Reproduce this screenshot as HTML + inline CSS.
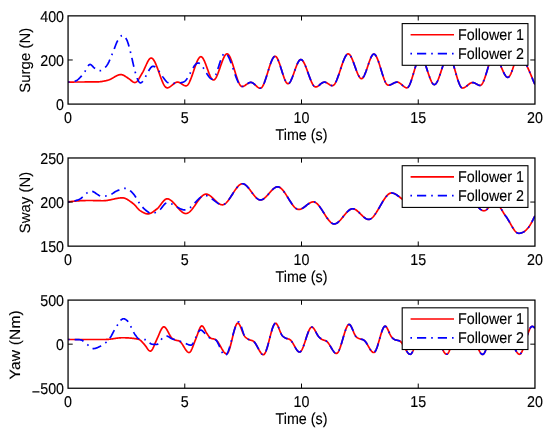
<!DOCTYPE html>
<html><head><meta charset="utf-8"><title>plot</title><style>html,body{margin:0;padding:0;background:#fff;width:550px;height:433px;overflow:hidden}svg{display:block}</style></head><body>
<svg width="550" height="433" viewBox="0 0 550 433" font-family='"Liberation Sans", Arial, Helvetica, sans-serif' font-size="14.3" fill="#000" text-rendering="geometricPrecision">
<style>text{stroke:#000;stroke-width:0.12px}</style>
<rect width="550" height="433" fill="#fff"/>
<defs><clipPath id="c0"><rect x="68.06" y="15.86" width="466.90000000000003" height="88.23"/></clipPath></defs>
<g clip-path="url(#c0)" fill="none" stroke-width="1.7" stroke-linejoin="round">
<path d="M68.06,82.03L68.39,82.03L68.73,82.03L69.06,82.03L69.39,82.03L69.73,82.03L70.06,82.03L70.40,82.03L70.73,82.03L71.06,82.03L71.40,82.03L71.73,82.03L72.06,82.03L72.40,82.03L72.73,82.03L73.07,82.03L73.40,82.03L73.73,82.03L74.07,82.03L74.40,82.02L74.73,82.02L75.07,82.02L75.40,82.02L75.74,82.02L76.07,82.02L76.40,82.02L76.74,82.02L77.07,82.02L77.40,82.02L77.74,82.01L78.07,82.01L78.41,82.01L78.74,82.01L79.07,82.01L79.41,82.01L79.74,82.01L80.07,82.00L80.41,82.00L80.74,82.00L81.08,82.00L81.41,82.00L81.74,81.99L82.08,81.99L82.41,81.99L82.74,81.99L83.08,81.99L83.41,81.98L83.75,81.98L84.08,81.98L84.41,81.98L84.75,81.97L85.08,81.97L85.41,81.97L85.75,81.97L86.08,81.96L86.42,81.96L86.75,81.96L87.08,81.95L87.42,81.95L87.75,81.95L88.08,81.95L88.42,81.94L88.75,81.94L89.09,81.94L89.42,81.93L89.75,81.93L90.09,81.93L90.42,81.92L90.75,81.92L91.09,81.91L91.42,81.91L91.76,81.91L92.09,81.90L92.42,81.90L92.76,81.89L93.09,81.89L93.42,81.89L93.76,81.88L94.09,81.88L94.43,81.87L94.76,81.87L95.09,81.86L95.43,81.86L95.76,81.85L96.09,81.85L96.43,81.84L96.76,81.84L97.10,81.83L97.43,81.83L97.76,81.82L98.10,81.81L98.43,81.80L98.76,81.79L99.10,81.78L99.43,81.76L99.77,81.73L100.10,81.70L100.43,81.67L100.77,81.64L101.10,81.60L101.43,81.55L101.77,81.50L102.10,81.45L102.44,81.40L102.77,81.34L103.10,81.28L103.44,81.22L103.77,81.15L104.10,81.08L104.44,81.02L104.77,80.94L105.10,80.87L105.44,80.80L105.77,80.72L106.11,80.65L106.44,80.57L106.77,80.49L107.11,80.41L107.44,80.33L107.77,80.24L108.11,80.15L108.44,80.05L108.78,79.93L109.11,79.81L109.44,79.68L109.78,79.54L110.11,79.39L110.44,79.23L110.78,79.07L111.11,78.90L111.45,78.72L111.78,78.54L112.11,78.35L112.45,78.16L112.78,77.97L113.11,77.77L113.45,77.58L113.78,77.38L114.12,77.18L114.45,76.99L114.78,76.80L115.12,76.61L115.45,76.42L115.78,76.24L116.12,76.06L116.45,75.89L116.79,75.73L117.12,75.57L117.45,75.43L117.79,75.29L118.12,75.16L118.45,75.04L118.79,74.94L119.12,74.84L119.46,74.76L119.79,74.70L120.12,74.65L120.46,74.61L120.79,74.60L121.12,74.60L121.46,74.63L121.79,74.68L122.13,74.75L122.46,74.84L122.79,74.95L123.13,75.09L123.46,75.24L123.79,75.41L124.13,75.59L124.46,75.78L124.80,75.99L125.13,76.20L125.46,76.42L125.80,76.64L126.13,76.87L126.46,77.09L126.80,77.32L127.13,77.54L127.47,77.76L127.80,77.98L128.13,78.20L128.47,78.42L128.80,78.65L129.13,78.89L129.47,79.14L129.80,79.40L130.14,79.67L130.47,79.95L130.80,80.23L131.14,80.51L131.47,80.78L131.80,81.05L132.14,81.31L132.47,81.55L132.81,81.78L133.14,81.98L133.47,82.16L133.81,82.31L134.14,82.42L134.47,82.50L134.81,82.53L135.14,82.52L135.48,82.45L135.81,82.32L136.14,82.13L136.48,81.88L136.81,81.58L137.14,81.23L137.48,80.84L137.81,80.40L138.15,79.93L138.48,79.42L138.81,78.89L139.15,78.35L139.48,77.78L139.81,77.21L140.15,76.64L140.48,76.06L140.81,75.49L141.15,74.93L141.48,74.37L141.82,73.81L142.15,73.25L142.48,72.68L142.82,72.08L143.15,71.46L143.48,70.81L143.82,70.13L144.15,69.43L144.49,68.71L144.82,67.97L145.15,67.22L145.49,66.47L145.82,65.72L146.15,64.97L146.49,64.24L146.82,63.52L147.16,62.82L147.49,62.15L147.82,61.51L148.16,60.91L148.49,60.35L148.82,59.84L149.16,59.38L149.49,58.98L149.83,58.64L150.16,58.37L150.49,58.18L150.83,58.05L151.16,58.01L151.49,58.04L151.83,58.14L152.16,58.32L152.50,58.57L152.83,58.88L153.16,59.26L153.50,59.70L153.83,60.19L154.16,60.74L154.50,61.34L154.83,61.98L155.17,62.67L155.50,63.40L155.83,64.16L156.17,64.96L156.50,65.79L156.83,66.64L157.17,67.52L157.50,68.41L157.84,69.32L158.17,70.25L158.50,71.18L158.84,72.12L159.17,73.06L159.50,74.00L159.84,74.94L160.17,75.87L160.51,76.79L160.84,77.70L161.17,78.59L161.51,79.45L161.84,80.30L162.17,81.11L162.51,81.90L162.84,82.65L163.18,83.36L163.51,84.03L163.84,84.66L164.18,85.24L164.51,85.76L164.84,86.24L165.18,86.65L165.51,87.01L165.85,87.30L166.18,87.53L166.51,87.69L166.85,87.79L167.18,87.84L167.51,87.83L167.85,87.79L168.18,87.71L168.52,87.59L168.85,87.45L169.18,87.28L169.52,87.10L169.85,86.89L170.18,86.67L170.52,86.43L170.85,86.18L171.19,85.92L171.52,85.65L171.85,85.38L172.19,85.10L172.52,84.82L172.85,84.55L173.19,84.28L173.52,84.01L173.86,83.76L174.19,83.51L174.52,83.28L174.86,83.06L175.19,82.86L175.52,82.68L175.86,82.52L176.19,82.38L176.52,82.28L176.86,82.20L177.19,82.15L177.53,82.13L177.86,82.14L178.19,82.18L178.53,82.26L178.86,82.35L179.19,82.48L179.53,82.62L179.86,82.78L180.20,82.96L180.53,83.16L180.86,83.36L181.20,83.58L181.53,83.79L181.86,84.02L182.20,84.24L182.53,84.46L182.87,84.67L183.20,84.87L183.53,85.07L183.87,85.25L184.20,85.41L184.53,85.56L184.87,85.68L185.20,85.77L185.54,85.83L185.87,85.85L186.20,85.82L186.54,85.74L186.87,85.59L187.20,85.37L187.54,85.08L187.87,84.72L188.21,84.29L188.54,83.79L188.87,83.23L189.21,82.61L189.54,81.94L189.87,81.22L190.21,80.46L190.54,79.65L190.88,78.80L191.21,77.93L191.54,77.02L191.88,76.09L192.21,75.14L192.54,74.17L192.88,73.19L193.21,72.20L193.55,71.21L193.88,70.21L194.21,69.22L194.55,68.24L194.88,67.28L195.21,66.32L195.55,65.39L195.88,64.49L196.22,63.61L196.55,62.77L196.88,61.96L197.22,61.20L197.55,60.48L197.88,59.81L198.22,59.20L198.55,58.64L198.89,58.15L199.22,57.72L199.55,57.36L199.89,57.08L200.22,56.87L200.55,56.75L200.89,56.71L201.22,56.76L201.56,56.90L201.89,57.12L202.22,57.42L202.56,57.80L202.89,58.25L203.22,58.78L203.56,59.36L203.89,60.01L204.23,60.70L204.56,61.44L204.89,62.23L205.23,63.05L205.56,63.90L205.89,64.78L206.23,65.68L206.56,66.59L206.90,67.52L207.23,68.45L207.56,69.38L207.90,70.30L208.23,71.21L208.56,72.11L208.90,72.98L209.23,73.83L209.57,74.64L209.90,75.42L210.23,76.15L210.57,76.84L210.90,77.47L211.23,78.04L211.57,78.55L211.90,78.99L212.23,79.36L212.57,79.64L212.90,79.85L213.24,79.96L213.57,79.99L213.90,79.93L214.24,79.78L214.57,79.55L214.90,79.23L215.24,78.84L215.57,78.38L215.91,77.85L216.24,77.26L216.57,76.61L216.91,75.90L217.24,75.15L217.57,74.35L217.91,73.52L218.24,72.65L218.58,71.75L218.91,70.83L219.24,69.89L219.58,68.93L219.91,67.97L220.24,67.00L220.58,66.02L220.91,65.06L221.25,64.10L221.58,63.15L221.91,62.23L222.25,61.33L222.58,60.45L222.91,59.61L223.25,58.81L223.58,58.05L223.92,57.34L224.25,56.68L224.58,56.08L224.92,55.54L225.25,55.07L225.58,54.66L225.92,54.34L226.25,54.09L226.59,53.93L226.92,53.86L227.25,53.87L227.59,53.98L227.92,54.17L228.25,54.45L228.59,54.81L228.92,55.24L229.26,55.75L229.59,56.34L229.92,56.98L230.26,57.69L230.59,58.45L230.92,59.27L231.26,60.13L231.59,61.04L231.93,61.98L232.26,62.96L232.59,63.97L232.93,65.00L233.26,66.06L233.59,67.13L233.93,68.22L234.26,69.31L234.60,70.40L234.93,71.50L235.26,72.58L235.60,73.66L235.93,74.73L236.26,75.77L236.60,76.79L236.93,77.79L237.27,78.75L237.60,79.68L237.93,80.56L238.27,81.40L238.60,82.19L238.93,82.92L239.27,83.60L239.60,84.21L239.94,84.76L240.27,85.23L240.60,85.63L240.94,85.96L241.27,86.20L241.60,86.37L241.94,86.47L242.27,86.50L242.61,86.49L242.94,86.43L243.27,86.33L243.61,86.20L243.94,86.05L244.27,85.88L244.61,85.69L244.94,85.48L245.28,85.26L245.61,85.03L245.94,84.80L246.28,84.56L246.61,84.32L246.94,84.08L247.28,83.85L247.61,83.62L247.94,83.40L248.28,83.20L248.61,83.01L248.95,82.84L249.28,82.69L249.61,82.57L249.95,82.47L250.28,82.40L250.61,82.37L250.95,82.37L251.28,82.40L251.62,82.47L251.95,82.58L252.28,82.72L252.62,82.89L252.95,83.09L253.28,83.31L253.62,83.56L253.95,83.83L254.29,84.11L254.62,84.40L254.95,84.70L255.29,85.01L255.62,85.33L255.95,85.64L256.29,85.95L256.62,86.25L256.96,86.55L257.29,86.83L257.62,87.10L257.96,87.35L258.29,87.57L258.62,87.77L258.96,87.94L259.29,88.08L259.63,88.18L259.96,88.24L260.29,88.24L260.63,88.18L260.96,88.05L261.29,87.85L261.63,87.57L261.96,87.20L262.30,86.76L262.63,86.25L262.96,85.66L263.30,85.02L263.63,84.31L263.96,83.54L264.30,82.72L264.63,81.85L264.97,80.94L265.30,80.00L265.63,79.02L265.97,78.01L266.30,76.97L266.63,75.92L266.97,74.85L267.30,73.77L267.64,72.68L267.97,71.59L268.30,70.50L268.64,69.42L268.97,68.35L269.30,67.30L269.64,66.27L269.97,65.26L270.31,64.29L270.64,63.34L270.97,62.44L271.31,61.58L271.64,60.77L271.97,60.01L272.31,59.31L272.64,58.67L272.98,58.10L273.31,57.60L273.64,57.17L273.98,56.82L274.31,56.56L274.64,56.39L274.98,56.31L275.31,56.32L275.65,56.44L275.98,56.65L276.31,56.95L276.65,57.34L276.98,57.82L277.31,58.38L277.65,59.02L277.98,59.72L278.32,60.49L278.65,61.32L278.98,62.19L279.32,63.11L279.65,64.08L279.98,65.07L280.32,66.09L280.65,67.14L280.99,68.20L281.32,69.27L281.65,70.34L281.99,71.41L282.32,72.48L282.65,73.53L282.99,74.56L283.32,75.57L283.65,76.54L283.99,77.48L284.32,78.37L284.66,79.22L284.99,80.01L285.32,80.74L285.66,81.40L285.99,81.99L286.32,82.50L286.66,82.93L286.99,83.27L287.33,83.52L287.66,83.67L287.99,83.72L288.33,83.68L288.66,83.54L288.99,83.32L289.33,83.01L289.66,82.62L290.00,82.16L290.33,81.63L290.66,81.04L291.00,80.39L291.33,79.68L291.66,78.93L292.00,78.14L292.33,77.30L292.67,76.44L293.00,75.55L293.33,74.64L293.67,73.71L294.00,72.77L294.33,71.82L294.67,70.87L295.00,69.93L295.34,69.00L295.67,68.08L296.00,67.18L296.34,66.31L296.67,65.47L297.00,64.66L297.34,63.89L297.67,63.17L298.01,62.50L298.34,61.89L298.67,61.34L299.01,60.85L299.34,60.44L299.67,60.10L300.01,59.85L300.34,59.67L300.68,59.59L301.01,59.58L301.34,59.66L301.68,59.82L302.01,60.05L302.34,60.36L302.68,60.74L303.01,61.18L303.35,61.68L303.68,62.23L304.01,62.84L304.35,63.50L304.68,64.20L305.01,64.94L305.35,65.72L305.68,66.53L306.02,67.37L306.35,68.23L306.68,69.12L307.02,70.03L307.35,70.94L307.68,71.87L308.02,72.80L308.35,73.74L308.69,74.67L309.02,75.59L309.35,76.51L309.69,77.41L310.02,78.30L310.35,79.16L310.69,80.00L311.02,80.80L311.36,81.58L311.69,82.31L312.02,83.01L312.36,83.66L312.69,84.26L313.02,84.81L313.36,85.30L313.69,85.73L314.03,86.10L314.36,86.40L314.69,86.64L315.03,86.80L315.36,86.90L315.69,86.94L316.03,86.93L316.36,86.86L316.70,86.76L317.03,86.63L317.36,86.46L317.70,86.27L318.03,86.06L318.36,85.83L318.70,85.58L319.03,85.32L319.37,85.05L319.70,84.78L320.03,84.50L320.37,84.23L320.70,83.96L321.03,83.69L321.37,83.44L321.70,83.20L322.03,82.97L322.37,82.77L322.70,82.59L323.04,82.44L323.37,82.32L323.70,82.22L324.04,82.17L324.37,82.14L324.70,82.15L325.04,82.19L325.37,82.27L325.71,82.37L326.04,82.50L326.37,82.65L326.71,82.82L327.04,83.00L327.37,83.20L327.71,83.41L328.04,83.62L328.38,83.84L328.71,84.06L329.04,84.28L329.38,84.49L329.71,84.70L330.04,84.89L330.38,85.07L330.71,85.23L331.05,85.37L331.38,85.49L331.71,85.57L332.05,85.62L332.38,85.63L332.71,85.58L333.05,85.47L333.38,85.30L333.72,85.06L334.05,84.75L334.38,84.37L334.72,83.92L335.05,83.41L335.38,82.84L335.72,82.21L336.05,81.54L336.39,80.81L336.72,80.04L337.05,79.22L337.39,78.37L337.72,77.49L338.05,76.57L338.39,75.63L338.72,74.67L339.06,73.69L339.39,72.69L339.72,71.68L340.06,70.67L340.39,69.65L340.72,68.63L341.06,67.61L341.39,66.61L341.73,65.61L342.06,64.63L342.39,63.67L342.73,62.73L343.06,61.81L343.39,60.93L343.73,60.08L344.06,59.27L344.40,58.50L344.73,57.78L345.06,57.10L345.40,56.48L345.73,55.91L346.06,55.41L346.40,54.97L346.73,54.59L347.07,54.29L347.40,54.06L347.73,53.91L348.07,53.84L348.40,53.86L348.73,53.95L349.07,54.13L349.40,54.40L349.74,54.73L350.07,55.14L350.40,55.62L350.74,56.17L351.07,56.77L351.40,57.43L351.74,58.14L352.07,58.89L352.41,59.68L352.74,60.51L353.07,61.37L353.41,62.25L353.74,63.16L354.07,64.08L354.41,65.01L354.74,65.95L355.08,66.89L355.41,67.82L355.74,68.75L356.08,69.67L356.41,70.56L356.74,71.44L357.08,72.29L357.41,73.10L357.74,73.88L358.08,74.62L358.41,75.31L358.75,75.95L359.08,76.54L359.41,77.06L359.75,77.52L360.08,77.91L360.41,78.22L360.75,78.45L361.08,78.60L361.42,78.66L361.75,78.62L362.08,78.50L362.42,78.28L362.75,77.97L363.08,77.58L363.42,77.10L363.75,76.55L364.09,75.93L364.42,75.25L364.75,74.50L365.09,73.71L365.42,72.87L365.75,71.98L366.09,71.07L366.42,70.12L366.76,69.16L367.09,68.17L367.42,67.18L367.76,66.18L368.09,65.18L368.42,64.19L368.76,63.21L369.09,62.25L369.43,61.32L369.76,60.42L370.09,59.55L370.43,58.73L370.76,57.95L371.09,57.23L371.43,56.57L371.76,55.97L372.10,55.45L372.43,55.01L372.76,54.64L373.10,54.37L373.43,54.19L373.76,54.10L374.10,54.12L374.43,54.22L374.77,54.42L375.10,54.71L375.43,55.09L375.77,55.54L376.10,56.08L376.43,56.68L376.77,57.35L377.10,58.08L377.44,58.87L377.77,59.71L378.10,60.60L378.44,61.53L378.77,62.50L379.10,63.50L379.44,64.53L379.77,65.58L380.11,66.65L380.44,67.74L380.77,68.83L381.11,69.92L381.44,71.01L381.77,72.10L382.11,73.17L382.44,74.23L382.78,75.27L383.11,76.28L383.44,77.26L383.78,78.21L384.11,79.11L384.44,79.97L384.78,80.78L385.11,81.53L385.45,82.23L385.78,82.86L386.11,83.41L386.45,83.90L386.78,84.31L387.11,84.63L387.45,84.88L387.78,85.05L388.12,85.16L388.45,85.20L388.78,85.20L389.12,85.16L389.45,85.09L389.78,85.00L390.12,84.89L390.45,84.76L390.79,84.62L391.12,84.47L391.45,84.31L391.79,84.15L392.12,83.98L392.45,83.80L392.79,83.63L393.12,83.45L393.45,83.28L393.79,83.11L394.12,82.95L394.46,82.80L394.79,82.65L395.12,82.52L395.46,82.41L395.79,82.31L396.12,82.23L396.46,82.17L396.79,82.13L397.13,82.12L397.46,82.14L397.79,82.19L398.13,82.27L398.46,82.38L398.79,82.53L399.13,82.69L399.46,82.89L399.80,83.11L400.13,83.34L400.46,83.59L400.80,83.86L401.13,84.14L401.46,84.43L401.80,84.72L402.13,85.01L402.47,85.31L402.80,85.60L403.13,85.89L403.47,86.17L403.80,86.43L404.13,86.69L404.47,86.92L404.80,87.14L405.14,87.33L405.47,87.50L405.80,87.63L406.14,87.74L406.47,87.79L406.80,87.80L407.14,87.75L407.47,87.62L407.81,87.41L408.14,87.11L408.47,86.73L408.81,86.26L409.14,85.71L409.47,85.07L409.81,84.37L410.14,83.60L410.48,82.77L410.81,81.88L411.14,80.94L411.48,79.95L411.81,78.93L412.14,77.87L412.48,76.79L412.81,75.68L413.15,74.56L413.48,73.42L413.81,72.28L414.15,71.14L414.48,70.01L414.81,68.88L415.15,67.78L415.48,66.70L415.82,65.64L416.15,64.62L416.48,63.64L416.82,62.70L417.15,61.82L417.48,60.99L417.82,60.22L418.15,59.53L418.49,58.90L418.82,58.35L419.15,57.89L419.49,57.52L419.82,57.24L420.15,57.06L420.49,56.97L420.82,56.98L421.16,57.09L421.49,57.29L421.82,57.57L422.16,57.93L422.49,58.37L422.82,58.89L423.16,59.47L423.49,60.11L423.83,60.81L424.16,61.56L424.49,62.36L424.83,63.20L425.16,64.08L425.49,65.00L425.83,65.94L426.16,66.90L426.50,67.89L426.83,68.89L427.16,69.89L427.50,70.90L427.83,71.91L428.16,72.92L428.50,73.92L428.83,74.90L429.16,75.86L429.50,76.79L429.83,77.70L430.17,78.57L430.50,79.40L430.83,80.19L431.17,80.93L431.50,81.62L431.83,82.24L432.17,82.81L432.50,83.30L432.84,83.73L433.17,84.07L433.50,84.34L433.84,84.52L434.17,84.61L434.50,84.62L434.84,84.53L435.17,84.36L435.51,84.10L435.84,83.77L436.17,83.36L436.51,82.87L436.84,82.32L437.17,81.71L437.51,81.04L437.84,80.31L438.18,79.53L438.51,78.72L438.84,77.86L439.18,76.96L439.51,76.03L439.84,75.08L440.18,74.11L440.51,73.12L440.85,72.11L441.18,71.10L441.51,70.08L441.85,69.06L442.18,68.05L442.51,67.05L442.85,66.06L443.18,65.09L443.52,64.15L443.85,63.23L444.18,62.35L444.52,61.50L444.85,60.69L445.18,59.93L445.52,59.22L445.85,58.57L446.19,57.97L446.52,57.44L446.85,56.98L447.19,56.59L447.52,56.28L447.85,56.05L448.19,55.91L448.52,55.86L448.86,55.91L449.19,56.05L449.52,56.29L449.86,56.63L450.19,57.06L450.52,57.57L450.86,58.17L451.19,58.85L451.53,59.59L451.86,60.40L452.19,61.28L452.53,62.21L452.86,63.18L453.19,64.20L453.53,65.26L453.86,66.35L454.20,67.47L454.53,68.61L454.86,69.76L455.20,70.93L455.53,72.10L455.86,73.26L456.20,74.43L456.53,75.58L456.87,76.71L457.20,77.82L457.53,78.90L457.87,79.94L458.20,80.95L458.53,81.91L458.87,82.81L459.20,83.67L459.54,84.46L459.87,85.18L460.20,85.83L460.54,86.40L460.87,86.88L461.20,87.28L461.54,87.59L461.87,87.82L462.21,87.96L462.54,88.03L462.87,88.03L463.21,87.99L463.54,87.91L463.87,87.79L464.21,87.65L464.54,87.48L464.87,87.29L465.21,87.08L465.54,86.85L465.88,86.62L466.21,86.37L466.54,86.11L466.88,85.84L467.21,85.57L467.54,85.30L467.88,85.03L468.21,84.76L468.55,84.49L468.88,84.24L469.21,83.99L469.55,83.76L469.88,83.54L470.21,83.33L470.55,83.15L470.88,82.99L471.22,82.85L471.55,82.74L471.88,82.65L472.22,82.60L472.55,82.57L472.88,82.58L473.22,82.61L473.55,82.67L473.89,82.76L474.22,82.88L474.55,83.01L474.89,83.16L475.22,83.32L475.55,83.50L475.89,83.68L476.22,83.87L476.56,84.06L476.89,84.25L477.22,84.44L477.56,84.62L477.89,84.79L478.22,84.95L478.56,85.09L478.89,85.21L479.23,85.31L479.56,85.38L479.89,85.40L480.23,85.38L480.56,85.30L480.89,85.15L481.23,84.93L481.56,84.62L481.90,84.23L482.23,83.76L482.56,83.21L482.90,82.59L483.23,81.90L483.56,81.15L483.90,80.34L484.23,79.49L484.57,78.58L484.90,77.63L485.23,76.65L485.57,75.64L485.90,74.60L486.23,73.54L486.57,72.47L486.90,71.38L487.24,70.29L487.57,69.20L487.90,68.12L488.24,67.04L488.57,65.98L488.90,64.95L489.24,63.94L489.57,62.96L489.91,62.02L490.24,61.11L490.57,60.26L490.91,59.46L491.24,58.71L491.57,58.03L491.91,57.42L492.24,56.88L492.58,56.42L492.91,56.03L493.24,55.74L493.58,55.53L493.91,55.41L494.24,55.38L494.58,55.43L494.91,55.56L495.25,55.76L495.58,56.03L495.91,56.36L496.25,56.75L496.58,57.19L496.91,57.69L497.25,58.23L497.58,58.81L497.92,59.44L498.25,60.10L498.58,60.79L498.92,61.51L499.25,62.25L499.58,63.02L499.92,63.79L500.25,64.59L500.58,65.39L500.92,66.19L501.25,67.00L501.59,67.80L501.92,68.60L502.25,69.38L502.59,70.15L502.92,70.91L503.25,71.64L503.59,72.34L503.92,73.02L504.26,73.66L504.59,74.26L504.92,74.82L505.26,75.34L505.59,75.81L505.92,76.22L506.26,76.58L506.59,76.87L506.93,77.10L507.26,77.26L507.59,77.35L507.93,77.35L508.26,77.26L508.59,77.09L508.93,76.83L509.26,76.48L509.60,76.04L509.93,75.52L510.26,74.93L510.60,74.28L510.93,73.56L511.26,72.78L511.60,71.96L511.93,71.09L512.27,70.18L512.60,69.25L512.93,68.29L513.27,67.31L513.60,66.31L513.93,65.31L514.27,64.31L514.60,63.32L514.94,62.34L515.27,61.38L515.60,60.44L515.94,59.53L516.27,58.66L516.60,57.83L516.94,57.05L517.27,56.32L517.61,55.66L517.94,55.06L518.27,54.54L518.61,54.10L518.94,53.74L519.27,53.47L519.61,53.30L519.94,53.23L520.28,53.26L520.61,53.38L520.94,53.60L521.28,53.91L521.61,54.30L521.94,54.77L522.28,55.30L522.61,55.90L522.95,56.56L523.28,57.26L523.61,58.00L523.95,58.77L524.28,59.56L524.61,60.37L524.95,61.19L525.28,62.01L525.62,62.83L525.95,63.63L526.28,64.42L526.62,65.19L526.95,65.95L527.28,66.69L527.62,67.42L527.95,68.16L528.29,68.89L528.62,69.63L528.95,70.38L529.29,71.13L529.62,71.90L529.95,72.67L530.29,73.45L530.62,74.23L530.96,75.03L531.29,75.83L531.62,76.64L531.96,77.46L532.29,78.28L532.62,79.11L532.96,79.95L533.29,80.78L533.63,81.61L533.96,82.40L534.29,83.14L534.63,83.77L534.96,84.28" stroke="#f00"/>
<path d="M68.06,82.03L68.39,82.02L68.73,82.01L69.06,82.00L69.39,81.98L69.73,81.96L70.06,81.93L70.40,81.90L70.73,81.87L71.06,81.83L71.40,81.79L71.73,81.75L72.06,81.70L72.40,81.65L72.73,81.59L73.07,81.54L73.40,81.48L73.73,81.41L74.07,81.35L74.40,81.27L74.73,81.20L75.07,81.11L75.40,81.00L75.74,80.88L76.07,80.74L76.40,80.57L76.74,80.39L77.07,80.18L77.40,79.95L77.74,79.70L78.07,79.44L78.41,79.15L78.74,78.85L79.07,78.54L79.41,78.21L79.74,77.88L80.07,77.53L80.41,77.17L80.74,76.81L81.08,76.43L81.41,76.06L81.74,75.68L82.08,75.29L82.41,74.91L82.74,74.52L83.08,74.12L83.41,73.71L83.75,73.28L84.08,72.83L84.41,72.34L84.75,71.81L85.08,71.25L85.41,70.66L85.75,70.04L86.08,69.41L86.42,68.78L86.75,68.16L87.08,67.55L87.42,66.97L87.75,66.43L88.08,65.93L88.42,65.50L88.75,65.12L89.09,64.83L89.42,64.61L89.75,64.49L90.09,64.45L90.42,64.50L90.75,64.63L91.09,64.83L91.42,65.09L91.76,65.39L92.09,65.73L92.42,66.09L92.76,66.45L93.09,66.80L93.42,67.14L93.76,67.46L94.09,67.75L94.43,68.02L94.76,68.27L95.09,68.51L95.43,68.75L95.76,68.98L96.09,69.20L96.43,69.42L96.76,69.63L97.10,69.82L97.43,70.00L97.76,70.17L98.10,70.32L98.43,70.44L98.76,70.55L99.10,70.62L99.43,70.67L99.77,70.69L100.10,70.67L100.43,70.63L100.77,70.55L101.10,70.44L101.43,70.31L101.77,70.14L102.10,69.96L102.44,69.74L102.77,69.51L103.10,69.26L103.44,68.99L103.77,68.70L104.10,68.40L104.44,68.09L104.77,67.76L105.10,67.43L105.44,67.08L105.77,66.72L106.11,66.35L106.44,65.94L106.77,65.51L107.11,65.04L107.44,64.53L107.77,63.98L108.11,63.38L108.44,62.74L108.78,62.07L109.11,61.36L109.44,60.63L109.78,59.87L110.11,59.10L110.44,58.31L110.78,57.51L111.11,56.71L111.45,55.90L111.78,55.10L112.11,54.29L112.45,53.49L112.78,52.68L113.11,51.85L113.45,51.01L113.78,50.15L114.12,49.27L114.45,48.38L114.78,47.47L115.12,46.57L115.45,45.68L115.78,44.80L116.12,43.96L116.45,43.16L116.79,42.41L117.12,41.71L117.45,41.06L117.79,40.46L118.12,39.90L118.45,39.36L118.79,38.85L119.12,38.36L119.46,37.89L119.79,37.44L120.12,37.01L120.46,36.62L120.79,36.27L121.12,35.96L121.46,35.70L121.79,35.50L122.13,35.36L122.46,35.29L122.79,35.29L123.13,35.36L123.46,35.50L123.79,35.72L124.13,36.00L124.46,36.33L124.80,36.72L125.13,37.16L125.46,37.63L125.80,38.14L126.13,38.70L126.46,39.30L126.80,39.96L127.13,40.70L127.47,41.52L127.80,42.43L128.13,43.43L128.47,44.50L128.80,45.64L129.13,46.84L129.47,48.07L129.80,49.34L130.14,50.64L130.47,51.97L130.80,53.33L131.14,54.74L131.47,56.18L131.80,57.67L132.14,59.18L132.47,60.70L132.81,62.21L133.14,63.69L133.47,65.14L133.81,66.55L134.14,67.92L134.47,69.25L134.81,70.54L135.14,71.79L135.48,73.00L135.81,74.15L136.14,75.24L136.48,76.25L136.81,77.19L137.14,78.06L137.48,78.87L137.81,79.62L138.15,80.31L138.48,80.95L138.81,81.51L139.15,81.99L139.48,82.36L139.81,82.63L140.15,82.79L140.48,82.84L140.81,82.80L141.15,82.68L141.48,82.49L141.82,82.24L142.15,81.93L142.48,81.58L142.82,81.18L143.15,80.74L143.48,80.26L143.82,79.75L144.15,79.21L144.49,78.65L144.82,78.06L145.15,77.45L145.49,76.82L145.82,76.19L146.15,75.54L146.49,74.89L146.82,74.24L147.16,73.59L147.49,72.95L147.82,72.31L148.16,71.69L148.49,71.09L148.82,70.50L149.16,69.94L149.49,69.41L149.83,68.91L150.16,68.44L150.49,68.01L150.83,67.62L151.16,67.28L151.49,66.98L151.83,66.74L152.16,66.55L152.50,66.41L152.83,66.33L153.16,66.30L153.50,66.32L153.83,66.38L154.16,66.48L154.50,66.62L154.83,66.79L155.17,67.00L155.50,67.24L155.83,67.50L156.17,67.80L156.50,68.11L156.83,68.46L157.17,68.82L157.50,69.21L157.84,69.61L158.17,70.03L158.50,70.47L158.84,70.92L159.17,71.39L159.50,71.86L159.84,72.35L160.17,72.84L160.51,73.34L160.84,73.84L161.17,74.35L161.51,74.86L161.84,75.36L162.17,75.87L162.51,76.37L162.84,76.87L163.18,77.36L163.51,77.84L163.84,78.31L164.18,78.77L164.51,79.21L164.84,79.64L165.18,80.06L165.51,80.46L165.85,80.83L166.18,81.19L166.51,81.52L166.85,81.83L167.18,82.11L167.51,82.37L167.85,82.59L168.18,82.79L168.52,82.95L168.85,83.08L169.18,83.18L169.52,83.25L169.85,83.30L170.18,83.32L170.52,83.34L170.85,83.34L171.19,83.34L171.52,83.34L171.85,83.34L172.19,83.33L172.52,83.33L172.85,83.32L173.19,83.31L173.52,83.30L173.86,83.29L174.19,83.28L174.52,83.27L174.86,83.26L175.19,83.25L175.52,83.24L175.86,83.22L176.19,83.21L176.52,83.19L176.86,83.18L177.19,83.16L177.53,83.14L177.86,83.12L178.19,83.10L178.53,83.07L178.86,83.03L179.19,82.99L179.53,82.95L179.86,82.90L180.20,82.84L180.53,82.78L180.86,82.72L181.20,82.65L181.53,82.58L181.86,82.50L182.20,82.41L182.53,82.32L182.87,82.23L183.20,82.12L183.53,81.99L183.87,81.84L184.20,81.66L184.53,81.44L184.87,81.19L185.20,80.90L185.54,80.57L185.87,80.20L186.20,79.79L186.54,79.36L186.87,78.89L187.20,78.40L187.54,77.88L187.87,77.34L188.21,76.78L188.54,76.20L188.87,75.60L189.21,75.00L189.54,74.38L189.87,73.76L190.21,73.13L190.54,72.50L190.88,71.86L191.21,71.23L191.54,70.61L191.88,69.99L192.21,69.39L192.54,68.79L192.88,68.21L193.21,67.65L193.55,67.11L193.88,66.59L194.21,66.09L194.55,65.63L194.88,65.19L195.21,64.78L195.55,64.41L195.88,64.08L196.22,63.79L196.55,63.54L196.88,63.34L197.22,63.18L197.55,63.07L197.88,63.01L198.22,63.00L198.55,63.04L198.89,63.13L199.22,63.26L199.55,63.44L199.89,63.66L200.22,63.92L200.55,64.22L200.89,64.55L201.22,64.92L201.56,65.31L201.89,65.74L202.22,66.18L202.56,66.65L202.89,67.15L203.22,67.65L203.56,68.18L203.89,68.71L204.23,69.26L204.56,69.82L204.89,70.38L205.23,70.94L205.56,71.51L205.89,72.07L206.23,72.63L206.56,73.18L206.90,73.72L207.23,74.26L207.56,74.77L207.90,75.28L208.23,75.76L208.56,76.22L208.90,76.66L209.23,77.07L209.57,77.46L209.90,77.81L210.23,78.13L210.57,78.41L210.90,78.66L211.23,78.86L211.57,79.02L211.90,79.12L212.23,79.17L212.57,79.15L212.90,79.05L213.24,78.88L213.57,78.61L213.90,78.26L214.24,77.82L214.57,77.29L214.90,76.69L215.24,76.02L215.57,75.28L215.91,74.48L216.24,73.63L216.57,72.73L216.91,71.79L217.24,70.82L217.57,69.82L217.91,68.79L218.24,67.75L218.58,66.71L218.91,65.65L219.24,64.60L219.58,63.56L219.91,62.54L220.24,61.54L220.58,60.56L220.91,59.62L221.25,58.72L221.58,57.87L221.91,57.07L222.25,56.32L222.58,55.65L222.91,55.04L223.25,54.51L223.58,54.07L223.92,53.71L224.25,53.45L224.58,53.27L224.92,53.19L225.25,53.20L225.58,53.28L225.92,53.45L226.25,53.69L226.59,53.99L226.92,54.36L227.25,54.78L227.59,55.27L227.92,55.81L228.25,56.39L228.59,57.03L228.92,57.71L229.26,58.43L229.59,59.19L229.92,59.99L230.26,60.81L230.59,61.67L230.92,62.55L231.26,63.46L231.59,64.38L231.93,65.33L232.26,66.28L232.59,67.25L232.93,68.23L233.26,69.21L233.59,70.19L233.93,71.17L234.26,72.15L234.60,73.11L234.93,74.07L235.26,75.02L235.60,75.95L235.93,76.86L236.26,77.74L236.60,78.61L236.93,79.44L237.27,80.24L237.60,81.01L237.93,81.74L238.27,82.42L238.60,83.07L238.93,83.67L239.27,84.21L239.60,84.71L239.94,85.15L240.27,85.53L240.60,85.85L240.94,86.10L241.27,86.29L241.60,86.43L241.94,86.50L242.27,86.52L242.61,86.49L242.94,86.43L243.27,86.33L243.61,86.20L243.94,86.05L244.27,85.88L244.61,85.69L244.94,85.48L245.28,85.26L245.61,85.03L245.94,84.80L246.28,84.56L246.61,84.32L246.94,84.08L247.28,83.85L247.61,83.62L247.94,83.40L248.28,83.20L248.61,83.01L248.95,82.84L249.28,82.69L249.61,82.57L249.95,82.47L250.28,82.40L250.61,82.37L250.95,82.37L251.28,82.40L251.62,82.47L251.95,82.58L252.28,82.72L252.62,82.89L252.95,83.09L253.28,83.31L253.62,83.56L253.95,83.83L254.29,84.11L254.62,84.40L254.95,84.70L255.29,85.01L255.62,85.33L255.95,85.64L256.29,85.95L256.62,86.25L256.96,86.55L257.29,86.83L257.62,87.10L257.96,87.35L258.29,87.57L258.62,87.77L258.96,87.94L259.29,88.08L259.63,88.18L259.96,88.24L260.29,88.24L260.63,88.18L260.96,88.05L261.29,87.85L261.63,87.57L261.96,87.20L262.30,86.76L262.63,86.25L262.96,85.66L263.30,85.02L263.63,84.31L263.96,83.54L264.30,82.72L264.63,81.85L264.97,80.94L265.30,80.00L265.63,79.02L265.97,78.01L266.30,76.97L266.63,75.92L266.97,74.85L267.30,73.77L267.64,72.68L267.97,71.59L268.30,70.50L268.64,69.42L268.97,68.35L269.30,67.30L269.64,66.27L269.97,65.26L270.31,64.29L270.64,63.34L270.97,62.44L271.31,61.58L271.64,60.77L271.97,60.01L272.31,59.31L272.64,58.67L272.98,58.10L273.31,57.60L273.64,57.17L273.98,56.82L274.31,56.56L274.64,56.39L274.98,56.31L275.31,56.32L275.65,56.44L275.98,56.65L276.31,56.95L276.65,57.34L276.98,57.82L277.31,58.38L277.65,59.02L277.98,59.72L278.32,60.49L278.65,61.32L278.98,62.19L279.32,63.11L279.65,64.08L279.98,65.07L280.32,66.09L280.65,67.14L280.99,68.20L281.32,69.27L281.65,70.34L281.99,71.41L282.32,72.48L282.65,73.53L282.99,74.56L283.32,75.57L283.65,76.54L283.99,77.48L284.32,78.37L284.66,79.22L284.99,80.01L285.32,80.74L285.66,81.40L285.99,81.99L286.32,82.50L286.66,82.93L286.99,83.27L287.33,83.52L287.66,83.67L287.99,83.72L288.33,83.68L288.66,83.54L288.99,83.32L289.33,83.01L289.66,82.62L290.00,82.16L290.33,81.63L290.66,81.04L291.00,80.39L291.33,79.68L291.66,78.93L292.00,78.14L292.33,77.30L292.67,76.44L293.00,75.55L293.33,74.64L293.67,73.71L294.00,72.77L294.33,71.82L294.67,70.87L295.00,69.93L295.34,69.00L295.67,68.08L296.00,67.18L296.34,66.31L296.67,65.47L297.00,64.66L297.34,63.89L297.67,63.17L298.01,62.50L298.34,61.89L298.67,61.34L299.01,60.85L299.34,60.44L299.67,60.10L300.01,59.85L300.34,59.67L300.68,59.59L301.01,59.58L301.34,59.66L301.68,59.82L302.01,60.05L302.34,60.36L302.68,60.74L303.01,61.18L303.35,61.68L303.68,62.23L304.01,62.84L304.35,63.50L304.68,64.20L305.01,64.94L305.35,65.72L305.68,66.53L306.02,67.37L306.35,68.23L306.68,69.12L307.02,70.03L307.35,70.94L307.68,71.87L308.02,72.80L308.35,73.74L308.69,74.67L309.02,75.59L309.35,76.51L309.69,77.41L310.02,78.30L310.35,79.16L310.69,80.00L311.02,80.80L311.36,81.58L311.69,82.31L312.02,83.01L312.36,83.66L312.69,84.26L313.02,84.81L313.36,85.30L313.69,85.73L314.03,86.10L314.36,86.40L314.69,86.64L315.03,86.80L315.36,86.90L315.69,86.94L316.03,86.93L316.36,86.86L316.70,86.76L317.03,86.63L317.36,86.46L317.70,86.27L318.03,86.06L318.36,85.83L318.70,85.58L319.03,85.32L319.37,85.05L319.70,84.78L320.03,84.50L320.37,84.23L320.70,83.96L321.03,83.69L321.37,83.44L321.70,83.20L322.03,82.97L322.37,82.77L322.70,82.59L323.04,82.44L323.37,82.32L323.70,82.22L324.04,82.17L324.37,82.14L324.70,82.15L325.04,82.19L325.37,82.27L325.71,82.37L326.04,82.50L326.37,82.65L326.71,82.82L327.04,83.00L327.37,83.20L327.71,83.41L328.04,83.62L328.38,83.84L328.71,84.06L329.04,84.28L329.38,84.49L329.71,84.70L330.04,84.89L330.38,85.07L330.71,85.23L331.05,85.37L331.38,85.49L331.71,85.57L332.05,85.62L332.38,85.63L332.71,85.58L333.05,85.47L333.38,85.30L333.72,85.06L334.05,84.75L334.38,84.37L334.72,83.92L335.05,83.41L335.38,82.84L335.72,82.21L336.05,81.54L336.39,80.81L336.72,80.04L337.05,79.22L337.39,78.37L337.72,77.49L338.05,76.57L338.39,75.63L338.72,74.67L339.06,73.69L339.39,72.69L339.72,71.68L340.06,70.67L340.39,69.65L340.72,68.63L341.06,67.61L341.39,66.61L341.73,65.61L342.06,64.63L342.39,63.67L342.73,62.73L343.06,61.81L343.39,60.93L343.73,60.08L344.06,59.27L344.40,58.50L344.73,57.78L345.06,57.10L345.40,56.48L345.73,55.91L346.06,55.41L346.40,54.97L346.73,54.59L347.07,54.29L347.40,54.06L347.73,53.91L348.07,53.84L348.40,53.86L348.73,53.95L349.07,54.13L349.40,54.40L349.74,54.73L350.07,55.14L350.40,55.62L350.74,56.17L351.07,56.77L351.40,57.43L351.74,58.14L352.07,58.89L352.41,59.68L352.74,60.51L353.07,61.37L353.41,62.25L353.74,63.16L354.07,64.08L354.41,65.01L354.74,65.95L355.08,66.89L355.41,67.82L355.74,68.75L356.08,69.67L356.41,70.56L356.74,71.44L357.08,72.29L357.41,73.10L357.74,73.88L358.08,74.62L358.41,75.31L358.75,75.95L359.08,76.54L359.41,77.06L359.75,77.52L360.08,77.91L360.41,78.22L360.75,78.45L361.08,78.60L361.42,78.66L361.75,78.62L362.08,78.50L362.42,78.28L362.75,77.97L363.08,77.58L363.42,77.10L363.75,76.55L364.09,75.93L364.42,75.25L364.75,74.50L365.09,73.71L365.42,72.87L365.75,71.98L366.09,71.07L366.42,70.12L366.76,69.16L367.09,68.17L367.42,67.18L367.76,66.18L368.09,65.18L368.42,64.19L368.76,63.21L369.09,62.25L369.43,61.32L369.76,60.42L370.09,59.55L370.43,58.73L370.76,57.95L371.09,57.23L371.43,56.57L371.76,55.97L372.10,55.45L372.43,55.01L372.76,54.64L373.10,54.37L373.43,54.19L373.76,54.10L374.10,54.12L374.43,54.22L374.77,54.42L375.10,54.71L375.43,55.09L375.77,55.54L376.10,56.08L376.43,56.68L376.77,57.35L377.10,58.08L377.44,58.87L377.77,59.71L378.10,60.60L378.44,61.53L378.77,62.50L379.10,63.50L379.44,64.53L379.77,65.58L380.11,66.65L380.44,67.74L380.77,68.83L381.11,69.92L381.44,71.01L381.77,72.10L382.11,73.17L382.44,74.23L382.78,75.27L383.11,76.28L383.44,77.26L383.78,78.21L384.11,79.11L384.44,79.97L384.78,80.78L385.11,81.53L385.45,82.23L385.78,82.86L386.11,83.41L386.45,83.90L386.78,84.31L387.11,84.63L387.45,84.88L387.78,85.05L388.12,85.16L388.45,85.20L388.78,85.20L389.12,85.16L389.45,85.09L389.78,85.00L390.12,84.89L390.45,84.76L390.79,84.62L391.12,84.47L391.45,84.31L391.79,84.15L392.12,83.98L392.45,83.80L392.79,83.63L393.12,83.45L393.45,83.28L393.79,83.11L394.12,82.95L394.46,82.80L394.79,82.65L395.12,82.52L395.46,82.41L395.79,82.31L396.12,82.23L396.46,82.17L396.79,82.13L397.13,82.12L397.46,82.14L397.79,82.19L398.13,82.27L398.46,82.38L398.79,82.53L399.13,82.69L399.46,82.89L399.80,83.11L400.13,83.34L400.46,83.59L400.80,83.86L401.13,84.14L401.46,84.43L401.80,84.72L402.13,85.01L402.47,85.31L402.80,85.60L403.13,85.89L403.47,86.17L403.80,86.43L404.13,86.69L404.47,86.92L404.80,87.14L405.14,87.33L405.47,87.50L405.80,87.63L406.14,87.74L406.47,87.79L406.80,87.80L407.14,87.75L407.47,87.62L407.81,87.41L408.14,87.11L408.47,86.73L408.81,86.26L409.14,85.71L409.47,85.07L409.81,84.37L410.14,83.60L410.48,82.77L410.81,81.88L411.14,80.94L411.48,79.95L411.81,78.93L412.14,77.87L412.48,76.79L412.81,75.68L413.15,74.56L413.48,73.42L413.81,72.28L414.15,71.14L414.48,70.01L414.81,68.88L415.15,67.78L415.48,66.70L415.82,65.64L416.15,64.62L416.48,63.64L416.82,62.70L417.15,61.82L417.48,60.99L417.82,60.22L418.15,59.53L418.49,58.90L418.82,58.35L419.15,57.89L419.49,57.52L419.82,57.24L420.15,57.06L420.49,56.97L420.82,56.98L421.16,57.09L421.49,57.29L421.82,57.57L422.16,57.93L422.49,58.37L422.82,58.89L423.16,59.47L423.49,60.11L423.83,60.81L424.16,61.56L424.49,62.36L424.83,63.20L425.16,64.08L425.49,65.00L425.83,65.94L426.16,66.90L426.50,67.89L426.83,68.89L427.16,69.89L427.50,70.90L427.83,71.91L428.16,72.92L428.50,73.92L428.83,74.90L429.16,75.86L429.50,76.79L429.83,77.70L430.17,78.57L430.50,79.40L430.83,80.19L431.17,80.93L431.50,81.62L431.83,82.24L432.17,82.81L432.50,83.30L432.84,83.73L433.17,84.07L433.50,84.34L433.84,84.52L434.17,84.61L434.50,84.62L434.84,84.53L435.17,84.36L435.51,84.10L435.84,83.77L436.17,83.36L436.51,82.87L436.84,82.32L437.17,81.71L437.51,81.04L437.84,80.31L438.18,79.53L438.51,78.72L438.84,77.86L439.18,76.96L439.51,76.03L439.84,75.08L440.18,74.11L440.51,73.12L440.85,72.11L441.18,71.10L441.51,70.08L441.85,69.06L442.18,68.05L442.51,67.05L442.85,66.06L443.18,65.09L443.52,64.15L443.85,63.23L444.18,62.35L444.52,61.50L444.85,60.69L445.18,59.93L445.52,59.22L445.85,58.57L446.19,57.97L446.52,57.44L446.85,56.98L447.19,56.59L447.52,56.28L447.85,56.05L448.19,55.91L448.52,55.86L448.86,55.91L449.19,56.05L449.52,56.29L449.86,56.63L450.19,57.06L450.52,57.57L450.86,58.17L451.19,58.85L451.53,59.59L451.86,60.40L452.19,61.28L452.53,62.21L452.86,63.18L453.19,64.20L453.53,65.26L453.86,66.35L454.20,67.47L454.53,68.61L454.86,69.76L455.20,70.93L455.53,72.10L455.86,73.26L456.20,74.43L456.53,75.58L456.87,76.71L457.20,77.82L457.53,78.90L457.87,79.94L458.20,80.95L458.53,81.91L458.87,82.81L459.20,83.67L459.54,84.46L459.87,85.18L460.20,85.83L460.54,86.40L460.87,86.88L461.20,87.28L461.54,87.59L461.87,87.82L462.21,87.96L462.54,88.03L462.87,88.03L463.21,87.99L463.54,87.91L463.87,87.79L464.21,87.65L464.54,87.48L464.87,87.29L465.21,87.08L465.54,86.85L465.88,86.62L466.21,86.37L466.54,86.11L466.88,85.84L467.21,85.57L467.54,85.30L467.88,85.03L468.21,84.76L468.55,84.49L468.88,84.24L469.21,83.99L469.55,83.76L469.88,83.54L470.21,83.33L470.55,83.15L470.88,82.99L471.22,82.85L471.55,82.74L471.88,82.65L472.22,82.60L472.55,82.57L472.88,82.58L473.22,82.61L473.55,82.67L473.89,82.76L474.22,82.88L474.55,83.01L474.89,83.16L475.22,83.32L475.55,83.50L475.89,83.68L476.22,83.87L476.56,84.06L476.89,84.25L477.22,84.44L477.56,84.62L477.89,84.79L478.22,84.95L478.56,85.09L478.89,85.21L479.23,85.31L479.56,85.38L479.89,85.40L480.23,85.38L480.56,85.30L480.89,85.15L481.23,84.93L481.56,84.62L481.90,84.23L482.23,83.76L482.56,83.21L482.90,82.59L483.23,81.90L483.56,81.15L483.90,80.34L484.23,79.49L484.57,78.58L484.90,77.63L485.23,76.65L485.57,75.64L485.90,74.60L486.23,73.54L486.57,72.47L486.90,71.38L487.24,70.29L487.57,69.20L487.90,68.12L488.24,67.04L488.57,65.98L488.90,64.95L489.24,63.94L489.57,62.96L489.91,62.02L490.24,61.11L490.57,60.26L490.91,59.46L491.24,58.71L491.57,58.03L491.91,57.42L492.24,56.88L492.58,56.42L492.91,56.03L493.24,55.74L493.58,55.53L493.91,55.41L494.24,55.38L494.58,55.43L494.91,55.56L495.25,55.76L495.58,56.03L495.91,56.36L496.25,56.75L496.58,57.19L496.91,57.69L497.25,58.23L497.58,58.81L497.92,59.44L498.25,60.10L498.58,60.79L498.92,61.51L499.25,62.25L499.58,63.02L499.92,63.79L500.25,64.59L500.58,65.39L500.92,66.19L501.25,67.00L501.59,67.80L501.92,68.60L502.25,69.38L502.59,70.15L502.92,70.91L503.25,71.64L503.59,72.34L503.92,73.02L504.26,73.66L504.59,74.26L504.92,74.82L505.26,75.34L505.59,75.81L505.92,76.22L506.26,76.58L506.59,76.87L506.93,77.10L507.26,77.26L507.59,77.35L507.93,77.35L508.26,77.26L508.59,77.09L508.93,76.83L509.26,76.48L509.60,76.04L509.93,75.52L510.26,74.93L510.60,74.28L510.93,73.56L511.26,72.78L511.60,71.96L511.93,71.09L512.27,70.18L512.60,69.25L512.93,68.29L513.27,67.31L513.60,66.31L513.93,65.31L514.27,64.31L514.60,63.32L514.94,62.34L515.27,61.38L515.60,60.44L515.94,59.53L516.27,58.66L516.60,57.83L516.94,57.05L517.27,56.32L517.61,55.66L517.94,55.06L518.27,54.54L518.61,54.10L518.94,53.74L519.27,53.47L519.61,53.30L519.94,53.23L520.28,53.26L520.61,53.38L520.94,53.60L521.28,53.91L521.61,54.30L521.94,54.77L522.28,55.30L522.61,55.90L522.95,56.56L523.28,57.26L523.61,58.00L523.95,58.77L524.28,59.56L524.61,60.37L524.95,61.19L525.28,62.01L525.62,62.83L525.95,63.63L526.28,64.42L526.62,65.19L526.95,65.95L527.28,66.69L527.62,67.42L527.95,68.16L528.29,68.89L528.62,69.63L528.95,70.38L529.29,71.13L529.62,71.90L529.95,72.67L530.29,73.45L530.62,74.23L530.96,75.03L531.29,75.83L531.62,76.64L531.96,77.46L532.29,78.28L532.62,79.11L532.96,79.95L533.29,80.78L533.63,81.61L533.96,82.40L534.29,83.14L534.63,83.77L534.96,84.28" stroke="#00f" stroke-dasharray="1.6 5 9.2 5"/>
</g>
<rect x="68.06" y="15.86" width="466.90" height="88.23" fill="none" stroke="#000" stroke-width="1.25"/>
<path d="M184.78,104.09V99.42M184.78,15.86V20.53M301.51,104.09V99.42M301.51,15.86V20.53M418.24,104.09V99.42M418.24,15.86V20.53M68.06,59.98H72.73M534.96,59.98H530.29" stroke="#000" stroke-width="1" fill="none"/>
<text transform="translate(68.06,122.79) scale(1,1.1)" text-anchor="middle">0</text>
<text transform="translate(184.78,122.79) scale(1,1.1)" text-anchor="middle">5</text>
<text transform="translate(301.51,122.79) scale(1,1.1)" text-anchor="middle">10</text>
<text transform="translate(418.24,122.79) scale(1,1.1)" text-anchor="middle">15</text>
<text transform="translate(534.96,122.79) scale(1,1.1)" text-anchor="middle">20</text>
<text transform="translate(64.06,110.29) scale(1,1.1)" text-anchor="end">0</text>
<text transform="translate(64.06,66.17) scale(1,1.1)" text-anchor="end">200</text>
<text transform="translate(64.06,22.06) scale(1,1.1)" text-anchor="end">400</text>
<text transform="translate(301.51,140.34) scale(1,1.1)" text-anchor="middle">Time (s)</text>
<text transform="translate(30.20,60.27) scale(1,1.0) rotate(-90)" text-anchor="middle" font-size="14.9" letter-spacing="0.05">Surge (N)</text>
<rect x="402.2" y="23.59" width="125.75" height="41.71" fill="#fff" stroke="#000" stroke-width="1.1"/>
<path d="M410.6,34.76H454" stroke="#f00" stroke-width="1.7"/>
<path d="M410.4,53.56H454" stroke="#00f" stroke-width="1.7" stroke-dasharray="1.6 5 9.2 5"/>
<text transform="translate(458.00,39.76) scale(1,1.1)">Follower 1</text>
<text transform="translate(458.00,58.66) scale(1,1.1)">Follower 2</text>
<defs><clipPath id="c1"><rect x="68.06" y="157.98" width="466.90000000000003" height="88.17000000000002"/></clipPath></defs>
<g clip-path="url(#c1)" fill="none" stroke-width="1.7" stroke-linejoin="round">
<path d="M68.06,201.77L68.39,201.74L68.73,201.72L69.06,201.69L69.39,201.65L69.73,201.62L70.06,201.58L70.40,201.55L70.73,201.52L71.06,201.48L71.40,201.45L71.73,201.41L72.06,201.38L72.40,201.35L72.73,201.32L73.07,201.29L73.40,201.26L73.73,201.23L74.07,201.20L74.40,201.17L74.73,201.14L75.07,201.11L75.40,201.08L75.74,201.06L76.07,201.03L76.40,201.00L76.74,200.98L77.07,200.95L77.40,200.93L77.74,200.90L78.07,200.88L78.41,200.86L78.74,200.84L79.07,200.81L79.41,200.79L79.74,200.77L80.07,200.75L80.41,200.73L80.74,200.72L81.08,200.70L81.41,200.68L81.74,200.66L82.08,200.65L82.41,200.63L82.74,200.62L83.08,200.60L83.41,200.59L83.75,200.58L84.08,200.57L84.41,200.56L84.75,200.55L85.08,200.54L85.41,200.53L85.75,200.52L86.08,200.51L86.42,200.51L86.75,200.50L87.08,200.49L87.42,200.49L87.75,200.49L88.08,200.48L88.42,200.48L88.75,200.48L89.09,200.48L89.42,200.48L89.75,200.48L90.09,200.48L90.42,200.49L90.75,200.49L91.09,200.49L91.42,200.50L91.76,200.51L92.09,200.51L92.42,200.52L92.76,200.52L93.09,200.53L93.42,200.54L93.76,200.55L94.09,200.56L94.43,200.56L94.76,200.57L95.09,200.58L95.43,200.59L95.76,200.60L96.09,200.61L96.43,200.62L96.76,200.63L97.10,200.64L97.43,200.65L97.76,200.66L98.10,200.67L98.43,200.67L98.76,200.68L99.10,200.69L99.43,200.70L99.77,200.70L100.10,200.71L100.43,200.72L100.77,200.72L101.10,200.73L101.43,200.73L101.77,200.73L102.10,200.74L102.44,200.74L102.77,200.74L103.10,200.73L103.44,200.73L103.77,200.72L104.10,200.71L104.44,200.69L104.77,200.67L105.10,200.64L105.44,200.61L105.77,200.58L106.11,200.54L106.44,200.50L106.77,200.46L107.11,200.41L107.44,200.36L107.77,200.30L108.11,200.25L108.44,200.19L108.78,200.13L109.11,200.07L109.44,200.00L109.78,199.93L110.11,199.87L110.44,199.80L110.78,199.73L111.11,199.65L111.45,199.58L111.78,199.51L112.11,199.43L112.45,199.36L112.78,199.28L113.11,199.21L113.45,199.14L113.78,199.06L114.12,198.99L114.45,198.91L114.78,198.84L115.12,198.77L115.45,198.70L115.78,198.63L116.12,198.57L116.45,198.50L116.79,198.44L117.12,198.38L117.45,198.32L117.79,198.27L118.12,198.21L118.45,198.16L118.79,198.12L119.12,198.07L119.46,198.03L119.79,197.99L120.12,197.96L120.46,197.93L120.79,197.91L121.12,197.89L121.46,197.87L121.79,197.86L122.13,197.86L122.46,197.87L122.79,197.88L123.13,197.92L123.46,197.96L123.79,198.02L124.13,198.09L124.46,198.18L124.80,198.29L125.13,198.40L125.46,198.53L125.80,198.68L126.13,198.83L126.46,199.00L126.80,199.17L127.13,199.35L127.47,199.55L127.80,199.75L128.13,199.96L128.47,200.17L128.80,200.39L129.13,200.62L129.47,200.85L129.80,201.09L130.14,201.33L130.47,201.57L130.80,201.81L131.14,202.06L131.47,202.30L131.80,202.55L132.14,202.80L132.47,203.05L132.81,203.30L133.14,203.56L133.47,203.83L133.81,204.11L134.14,204.42L134.47,204.74L134.81,205.07L135.14,205.43L135.48,205.79L135.81,206.17L136.14,206.55L136.48,206.94L136.81,207.33L137.14,207.72L137.48,208.10L137.81,208.47L138.15,208.84L138.48,209.18L138.81,209.52L139.15,209.83L139.48,210.12L139.81,210.39L140.15,210.64L140.48,210.87L140.81,211.09L141.15,211.30L141.48,211.50L141.82,211.69L142.15,211.89L142.48,212.08L142.82,212.26L143.15,212.44L143.48,212.62L143.82,212.78L144.15,212.94L144.49,213.09L144.82,213.23L145.15,213.36L145.49,213.48L145.82,213.59L146.15,213.68L146.49,213.76L146.82,213.82L147.16,213.87L147.49,213.90L147.82,213.91L148.16,213.90L148.49,213.87L148.82,213.82L149.16,213.75L149.49,213.67L149.83,213.56L150.16,213.44L150.49,213.30L150.83,213.15L151.16,212.98L151.49,212.80L151.83,212.61L152.16,212.41L152.50,212.20L152.83,211.98L153.16,211.75L153.50,211.52L153.83,211.28L154.16,211.04L154.50,210.79L154.83,210.54L155.17,210.30L155.50,210.05L155.83,209.80L156.17,209.55L156.50,209.29L156.83,209.03L157.17,208.75L157.50,208.45L157.84,208.13L158.17,207.79L158.50,207.43L158.84,207.04L159.17,206.64L159.50,206.23L159.84,205.80L160.17,205.36L160.51,204.91L160.84,204.47L161.17,204.02L161.51,203.57L161.84,203.12L162.17,202.68L162.51,202.26L162.84,201.84L163.18,201.44L163.51,201.06L163.84,200.70L164.18,200.37L164.51,200.06L164.84,199.78L165.18,199.53L165.51,199.31L165.85,199.14L166.18,199.00L166.51,198.90L166.85,198.84L167.18,198.82L167.51,198.83L167.85,198.87L168.18,198.95L168.52,199.04L168.85,199.16L169.18,199.31L169.52,199.47L169.85,199.66L170.18,199.87L170.52,200.09L170.85,200.33L171.19,200.59L171.52,200.87L171.85,201.16L172.19,201.46L172.52,201.78L172.85,202.10L173.19,202.44L173.52,202.79L173.86,203.15L174.19,203.51L174.52,203.88L174.86,204.26L175.19,204.64L175.52,205.03L175.86,205.42L176.19,205.81L176.52,206.20L176.86,206.59L177.19,206.98L177.53,207.37L177.86,207.75L178.19,208.13L178.53,208.51L178.86,208.88L179.19,209.24L179.53,209.60L179.86,209.94L180.20,210.28L180.53,210.61L180.86,210.92L181.20,211.22L181.53,211.51L181.86,211.78L182.20,212.04L182.53,212.28L182.87,212.50L183.20,212.70L183.53,212.88L183.87,213.05L184.20,213.19L184.53,213.31L184.87,213.40L185.20,213.47L185.54,213.51L185.87,213.53L186.20,213.52L186.54,213.48L186.87,213.41L187.20,213.31L187.54,213.19L187.87,213.03L188.21,212.86L188.54,212.65L188.87,212.42L189.21,212.17L189.54,211.90L189.87,211.61L190.21,211.29L190.54,210.96L190.88,210.61L191.21,210.25L191.54,209.86L191.88,209.47L192.21,209.06L192.54,208.64L192.88,208.20L193.21,207.76L193.55,207.31L193.88,206.85L194.21,206.38L194.55,205.91L194.88,205.43L195.21,204.95L195.55,204.47L195.88,203.99L196.22,203.50L196.55,203.02L196.88,202.54L197.22,202.06L197.55,201.58L197.88,201.11L198.22,200.65L198.55,200.19L198.89,199.74L199.22,199.30L199.55,198.87L199.89,198.45L200.22,198.05L200.55,197.66L200.89,197.28L201.22,196.92L201.56,196.58L201.89,196.25L202.22,195.95L202.56,195.66L202.89,195.39L203.22,195.15L203.56,194.93L203.89,194.74L204.23,194.57L204.56,194.42L204.89,194.31L205.23,194.22L205.56,194.16L205.89,194.13L206.23,194.13L206.56,194.15L206.90,194.20L207.23,194.28L207.56,194.38L207.90,194.50L208.23,194.64L208.56,194.80L208.90,194.98L209.23,195.18L209.57,195.39L209.90,195.62L210.23,195.86L210.57,196.12L210.90,196.39L211.23,196.67L211.57,196.96L211.90,197.26L212.23,197.57L212.57,197.88L212.90,198.20L213.24,198.52L213.57,198.84L213.90,199.17L214.24,199.50L214.57,199.83L214.90,200.16L215.24,200.48L215.57,200.80L215.91,201.12L216.24,201.43L216.57,201.74L216.91,202.03L217.24,202.32L217.57,202.60L217.91,202.87L218.24,203.12L218.58,203.36L218.91,203.59L219.24,203.80L219.58,203.99L219.91,204.17L220.24,204.32L220.58,204.46L220.91,204.58L221.25,204.67L221.58,204.74L221.91,204.78L222.25,204.80L222.58,204.79L222.91,204.75L223.25,204.67L223.58,204.57L223.92,204.44L224.25,204.28L224.58,204.09L224.92,203.87L225.25,203.62L225.58,203.36L225.92,203.06L226.25,202.75L226.59,202.41L226.92,202.05L227.25,201.67L227.59,201.28L227.92,200.87L228.25,200.44L228.59,199.99L228.92,199.54L229.26,199.07L229.59,198.59L229.92,198.10L230.26,197.60L230.59,197.10L230.92,196.59L231.26,196.07L231.59,195.55L231.93,195.02L232.26,194.50L232.59,193.97L232.93,193.45L233.26,192.92L233.59,192.40L233.93,191.88L234.26,191.37L234.60,190.87L234.93,190.37L235.26,189.88L235.60,189.40L235.93,188.94L236.26,188.48L236.60,188.04L236.93,187.61L237.27,187.20L237.60,186.81L237.93,186.44L238.27,186.08L238.60,185.74L238.93,185.43L239.27,185.14L239.60,184.87L239.94,184.63L240.27,184.42L240.60,184.23L240.94,184.07L241.27,183.94L241.60,183.84L241.94,183.78L242.27,183.74L242.61,183.74L242.94,183.77L243.27,183.83L243.61,183.92L243.94,184.04L244.27,184.19L244.61,184.37L244.94,184.57L245.28,184.80L245.61,185.05L245.94,185.32L246.28,185.61L246.61,185.92L246.94,186.25L247.28,186.60L247.61,186.96L247.94,187.34L248.28,187.73L248.61,188.13L248.95,188.55L249.28,188.97L249.61,189.40L249.95,189.84L250.28,190.28L250.61,190.73L250.95,191.18L251.28,191.63L251.62,192.08L251.95,192.54L252.28,192.99L252.62,193.43L252.95,193.88L253.28,194.31L253.62,194.74L253.95,195.16L254.29,195.58L254.62,195.98L254.95,196.37L255.29,196.74L255.62,197.10L255.95,197.45L256.29,197.78L256.62,198.09L256.96,198.38L257.29,198.65L257.62,198.90L257.96,199.12L258.29,199.32L258.62,199.50L258.96,199.64L259.29,199.76L259.63,199.85L259.96,199.91L260.29,199.94L260.63,199.94L260.96,199.91L261.29,199.86L261.63,199.77L261.96,199.67L262.30,199.53L262.63,199.37L262.96,199.20L263.30,198.99L263.63,198.77L263.96,198.54L264.30,198.28L264.63,198.01L264.97,197.72L265.30,197.41L265.63,197.10L265.97,196.77L266.30,196.43L266.63,196.09L266.97,195.73L267.30,195.37L267.64,195.00L267.97,194.62L268.30,194.25L268.64,193.87L268.97,193.48L269.30,193.10L269.64,192.72L269.97,192.34L270.31,191.96L270.64,191.59L270.97,191.23L271.31,190.87L271.64,190.51L271.97,190.17L272.31,189.84L272.64,189.51L272.98,189.20L273.31,188.91L273.64,188.63L273.98,188.36L274.31,188.11L274.64,187.88L274.98,187.67L275.31,187.48L275.65,187.31L275.98,187.16L276.31,187.04L276.65,186.94L276.98,186.87L277.31,186.83L277.65,186.82L277.98,186.83L278.32,186.88L278.65,186.95L278.98,187.06L279.32,187.20L279.65,187.36L279.98,187.56L280.32,187.78L280.65,188.02L280.99,188.30L281.32,188.59L281.65,188.91L281.99,189.25L282.32,189.61L282.65,189.99L282.99,190.39L283.32,190.80L283.65,191.23L283.99,191.68L284.32,192.14L284.66,192.61L284.99,193.10L285.32,193.59L285.66,194.10L285.99,194.61L286.32,195.13L286.66,195.66L286.99,196.19L287.33,196.72L287.66,197.26L287.99,197.80L288.33,198.34L288.66,198.88L288.99,199.42L289.33,199.96L289.66,200.49L290.00,201.02L290.33,201.54L290.66,202.05L291.00,202.56L291.33,203.06L291.66,203.55L292.00,204.02L292.33,204.49L292.67,204.94L293.00,205.37L293.33,205.79L293.67,206.19L294.00,206.58L294.33,206.94L294.67,207.29L295.00,207.61L295.34,207.91L295.67,208.19L296.00,208.44L296.34,208.67L296.67,208.87L297.00,209.05L297.34,209.19L297.67,209.31L298.01,209.39L298.34,209.45L298.67,209.47L299.01,209.47L299.34,209.45L299.67,209.40L300.01,209.33L300.34,209.24L300.68,209.13L301.01,209.00L301.34,208.86L301.68,208.70L302.01,208.52L302.34,208.34L302.68,208.14L303.01,207.93L303.35,207.71L303.68,207.48L304.01,207.24L304.35,207.00L304.68,206.75L305.01,206.49L305.35,206.24L305.68,205.98L306.02,205.72L306.35,205.46L306.68,205.20L307.02,204.94L307.35,204.68L307.68,204.43L308.02,204.19L308.35,203.95L308.69,203.72L309.02,203.50L309.35,203.28L309.69,203.08L310.02,202.89L310.35,202.71L310.69,202.55L311.02,202.40L311.36,202.27L311.69,202.15L312.02,202.05L312.36,201.98L312.69,201.92L313.02,201.89L313.36,201.88L313.69,201.90L314.03,201.95L314.36,202.03L314.69,202.13L315.03,202.27L315.36,202.43L315.69,202.62L316.03,202.84L316.36,203.09L316.70,203.36L317.03,203.65L317.36,203.96L317.70,204.30L318.03,204.66L318.36,205.03L318.70,205.43L319.03,205.84L319.37,206.27L319.70,206.71L320.03,207.16L320.37,207.63L320.70,208.11L321.03,208.60L321.37,209.10L321.70,209.60L322.03,210.12L322.37,210.64L322.70,211.16L323.04,211.69L323.37,212.22L323.70,212.75L324.04,213.28L324.37,213.81L324.70,214.34L325.04,214.87L325.37,215.39L325.71,215.91L326.04,216.42L326.37,216.92L326.71,217.42L327.04,217.90L327.37,218.38L327.71,218.84L328.04,219.29L328.38,219.72L328.71,220.14L329.04,220.55L329.38,220.94L329.71,221.30L330.04,221.65L330.38,221.98L330.71,222.29L331.05,222.57L331.38,222.83L331.71,223.07L332.05,223.28L332.38,223.46L332.71,223.61L333.05,223.73L333.38,223.83L333.72,223.89L334.05,223.92L334.38,223.92L334.72,223.90L335.05,223.84L335.38,223.76L335.72,223.65L336.05,223.51L336.39,223.35L336.72,223.17L337.05,222.96L337.39,222.74L337.72,222.49L338.05,222.23L338.39,221.95L338.72,221.65L339.06,221.34L339.39,221.01L339.72,220.67L340.06,220.32L340.39,219.96L340.72,219.58L341.06,219.20L341.39,218.81L341.73,218.42L342.06,218.01L342.39,217.61L342.73,217.20L343.06,216.79L343.39,216.37L343.73,215.96L344.06,215.55L344.40,215.14L344.73,214.73L345.06,214.33L345.40,213.93L345.73,213.54L346.06,213.16L346.40,212.78L346.73,212.42L347.07,212.07L347.40,211.72L347.73,211.40L348.07,211.08L348.40,210.78L348.73,210.50L349.07,210.23L349.40,209.99L349.74,209.76L350.07,209.55L350.40,209.37L350.74,209.20L351.07,209.07L351.40,208.95L351.74,208.86L352.07,208.80L352.41,208.77L352.74,208.76L353.07,208.78L353.41,208.83L353.74,208.90L354.07,208.99L354.41,209.11L354.74,209.25L355.08,209.41L355.41,209.59L355.74,209.78L356.08,210.00L356.41,210.23L356.74,210.48L357.08,210.73L357.41,211.01L357.74,211.29L358.08,211.58L358.41,211.89L358.75,212.20L359.08,212.51L359.41,212.84L359.75,213.16L360.08,213.49L360.41,213.83L360.75,214.16L361.08,214.49L361.42,214.82L361.75,215.15L362.08,215.48L362.42,215.80L362.75,216.12L363.08,216.42L363.42,216.72L363.75,217.01L364.09,217.29L364.42,217.56L364.75,217.81L365.09,218.05L365.42,218.28L365.75,218.49L366.09,218.68L366.42,218.85L366.76,219.01L367.09,219.14L367.42,219.25L367.76,219.33L368.09,219.39L368.42,219.43L368.76,219.43L369.09,219.41L369.43,219.36L369.76,219.27L370.09,219.16L370.43,219.01L370.76,218.84L371.09,218.64L371.43,218.41L371.76,218.15L372.10,217.87L372.43,217.57L372.76,217.24L373.10,216.88L373.43,216.51L373.76,216.12L374.10,215.71L374.43,215.27L374.77,214.83L375.10,214.36L375.43,213.88L375.77,213.39L376.10,212.88L376.43,212.36L376.77,211.83L377.10,211.29L377.44,210.74L377.77,210.18L378.10,209.62L378.44,209.05L378.77,208.47L379.10,207.89L379.44,207.31L379.77,206.73L380.11,206.14L380.44,205.55L380.77,204.97L381.11,204.39L381.44,203.81L381.77,203.23L382.11,202.67L382.44,202.10L382.78,201.55L383.11,201.00L383.44,200.46L383.78,199.93L384.11,199.42L384.44,198.91L384.78,198.42L385.11,197.94L385.45,197.48L385.78,197.04L386.11,196.61L386.45,196.20L386.78,195.82L387.11,195.45L387.45,195.10L387.78,194.78L388.12,194.48L388.45,194.20L388.78,193.95L389.12,193.73L389.45,193.53L389.78,193.37L390.12,193.23L390.45,193.12L390.79,193.04L391.12,192.99L391.45,192.97L391.79,192.97L392.12,193.00L392.45,193.05L392.79,193.11L393.12,193.20L393.45,193.29L393.79,193.41L394.12,193.54L394.46,193.68L394.79,193.84L395.12,194.00L395.46,194.18L395.79,194.37L396.12,194.57L396.46,194.78L396.79,195.00L397.13,195.22L397.46,195.46L397.79,195.70L398.13,195.94L398.46,196.19L398.79,196.44L399.13,196.69L399.46,196.95L399.80,197.21L400.13,197.47L400.46,197.73L400.80,197.99L401.13,198.25L401.46,198.50L401.80,198.75L402.13,199.00L402.47,199.25L402.80,199.49L403.13,199.72L403.47,199.94L403.80,200.16L404.13,200.37L404.47,200.57L404.80,200.76L405.14,200.94L405.47,201.11L405.80,201.27L406.14,201.41L406.47,201.54L406.80,201.66L407.14,201.76L407.47,201.84L407.81,201.91L408.14,201.96L408.47,201.99L408.81,202.00L409.14,201.99L409.47,201.97L409.81,201.92L410.14,201.85L410.48,201.76L410.81,201.65L411.14,201.52L411.48,201.37L411.81,201.21L412.14,201.03L412.48,200.83L412.81,200.62L413.15,200.40L413.48,200.16L413.81,199.92L414.15,199.66L414.48,199.39L414.81,199.11L415.15,198.82L415.48,198.52L415.82,198.22L416.15,197.91L416.48,197.60L416.82,197.28L417.15,196.96L417.48,196.63L417.82,196.30L418.15,195.98L418.49,195.65L418.82,195.32L419.15,194.99L419.49,194.67L419.82,194.35L420.15,194.03L420.49,193.72L420.82,193.41L421.16,193.11L421.49,192.82L421.82,192.54L422.16,192.26L422.49,192.00L422.82,191.74L423.16,191.50L423.49,191.27L423.83,191.06L424.16,190.85L424.49,190.67L424.83,190.49L425.16,190.34L425.49,190.20L425.83,190.08L426.16,189.98L426.50,189.90L426.83,189.84L427.16,189.81L427.50,189.80L427.83,189.81L428.16,189.84L428.50,189.90L428.83,189.99L429.16,190.10L429.50,190.23L429.83,190.39L430.17,190.57L430.50,190.76L430.83,190.98L431.17,191.22L431.50,191.47L431.83,191.73L432.17,192.02L432.50,192.31L432.84,192.62L433.17,192.94L433.50,193.27L433.84,193.61L434.17,193.96L434.50,194.32L434.84,194.68L435.17,195.04L435.51,195.41L435.84,195.79L436.17,196.16L436.51,196.54L436.84,196.91L437.17,197.28L437.51,197.65L437.84,198.02L438.18,198.38L438.51,198.73L438.84,199.08L439.18,199.42L439.51,199.75L439.84,200.07L440.18,200.38L440.51,200.67L440.85,200.95L441.18,201.22L441.51,201.47L441.85,201.70L442.18,201.92L442.51,202.12L442.85,202.29L443.18,202.45L443.52,202.58L443.85,202.69L444.18,202.77L444.52,202.83L444.85,202.87L445.18,202.88L445.52,202.87L445.85,202.84L446.19,202.79L446.52,202.72L446.85,202.63L447.19,202.53L447.52,202.41L447.85,202.27L448.19,202.13L448.52,201.96L448.86,201.79L449.19,201.60L449.52,201.40L449.86,201.20L450.19,200.98L450.52,200.75L450.86,200.51L451.19,200.27L451.53,200.02L451.86,199.76L452.19,199.50L452.53,199.23L452.86,198.96L453.19,198.68L453.53,198.41L453.86,198.13L454.20,197.85L454.53,197.56L454.86,197.28L455.20,197.00L455.53,196.72L455.86,196.45L456.20,196.18L456.53,195.91L456.87,195.64L457.20,195.38L457.53,195.13L457.87,194.88L458.20,194.64L458.53,194.41L458.87,194.19L459.20,193.98L459.54,193.78L459.87,193.59L460.20,193.41L460.54,193.24L460.87,193.09L461.20,192.95L461.54,192.83L461.87,192.72L462.21,192.62L462.54,192.55L462.87,192.49L463.21,192.45L463.54,192.44L463.87,192.44L464.21,192.47L464.54,192.53L464.87,192.61L465.21,192.71L465.54,192.84L465.88,193.00L466.21,193.18L466.54,193.38L466.88,193.60L467.21,193.85L467.54,194.11L467.88,194.40L468.21,194.70L468.55,195.02L468.88,195.35L469.21,195.70L469.55,196.06L469.88,196.44L470.21,196.82L470.55,197.22L470.88,197.63L471.22,198.05L471.55,198.47L471.88,198.90L472.22,199.34L472.55,199.78L472.88,200.23L473.22,200.68L473.55,201.13L473.89,201.59L474.22,202.04L474.55,202.49L474.89,202.94L475.22,203.39L475.55,203.84L475.89,204.27L476.22,204.71L476.56,205.13L476.89,205.55L477.22,205.96L477.56,206.36L477.89,206.75L478.22,207.13L478.56,207.49L478.89,207.84L479.23,208.18L479.56,208.50L479.89,208.80L480.23,209.09L480.56,209.36L480.89,209.61L481.23,209.83L481.56,210.04L481.90,210.22L482.23,210.38L482.56,210.52L482.90,210.62L483.23,210.70L483.56,210.76L483.90,210.78L484.23,210.76L484.57,210.71L484.90,210.62L485.23,210.50L485.57,210.33L485.90,210.14L486.23,209.91L486.57,209.65L486.90,209.37L487.24,209.07L487.57,208.74L487.90,208.40L488.24,208.04L488.57,207.68L488.90,207.30L489.24,206.92L489.57,206.54L489.91,206.16L490.24,205.78L490.57,205.42L490.91,205.06L491.24,204.71L491.57,204.38L491.91,204.07L492.24,203.79L492.58,203.53L492.91,203.29L493.24,203.09L493.58,202.92L493.91,202.79L494.24,202.70L494.58,202.65L494.91,202.65L495.25,202.68L495.58,202.77L495.91,202.89L496.25,203.06L496.58,203.26L496.91,203.51L497.25,203.79L497.58,204.10L497.92,204.45L498.25,204.82L498.58,205.22L498.92,205.65L499.25,206.09L499.58,206.56L499.92,207.05L500.25,207.55L500.58,208.06L500.92,208.59L501.25,209.12L501.59,209.66L501.92,210.21L502.25,210.75L502.59,211.30L502.92,211.85L503.25,212.39L503.59,212.92L503.92,213.45L504.26,213.96L504.59,214.46L504.92,214.96L505.26,215.44L505.59,215.91L505.92,216.38L506.26,216.86L506.59,217.34L506.93,217.84L507.26,218.35L507.59,218.87L507.93,219.41L508.26,219.97L508.59,220.53L508.93,221.10L509.26,221.68L509.60,222.27L509.93,222.86L510.26,223.45L510.60,224.04L510.93,224.62L511.26,225.21L511.60,225.79L511.93,226.36L512.27,226.92L512.60,227.47L512.93,228.00L513.27,228.52L513.60,229.02L513.93,229.51L514.27,229.97L514.60,230.41L514.94,230.83L515.27,231.21L515.60,231.57L515.94,231.90L516.27,232.20L516.60,232.46L516.94,232.69L517.27,232.88L517.61,233.04L517.94,233.15L518.27,233.23L518.61,233.28L518.94,233.30L519.27,233.30L519.61,233.27L519.94,233.23L520.28,233.18L520.61,233.11L520.94,233.04L521.28,232.94L521.61,232.84L521.94,232.72L522.28,232.58L522.61,232.44L522.95,232.28L523.28,232.10L523.61,231.91L523.95,231.71L524.28,231.49L524.61,231.25L524.95,231.00L525.28,230.74L525.62,230.45L525.95,230.16L526.28,229.84L526.62,229.51L526.95,229.16L527.28,228.80L527.62,228.42L527.95,228.02L528.29,227.60L528.62,227.17L528.95,226.71L529.29,226.24L529.62,225.75L529.95,225.25L530.29,224.72L530.62,224.17L530.96,223.61L531.29,223.02L531.62,222.42L531.96,221.79L532.29,221.14L532.62,220.48L532.96,219.80L533.29,219.10L533.63,218.40L533.96,217.71L534.29,217.07L534.63,216.51L534.96,216.05" stroke="#f00"/>
<path d="M68.06,202.05L68.39,202.04L68.73,202.03L69.06,202.01L69.39,201.98L69.73,201.95L70.06,201.92L70.40,201.88L70.73,201.83L71.06,201.78L71.40,201.72L71.73,201.66L72.06,201.59L72.40,201.52L72.73,201.44L73.07,201.36L73.40,201.28L73.73,201.19L74.07,201.10L74.40,201.01L74.73,200.91L75.07,200.81L75.40,200.71L75.74,200.61L76.07,200.51L76.40,200.40L76.74,200.29L77.07,200.18L77.40,200.07L77.74,199.95L78.07,199.84L78.41,199.71L78.74,199.58L79.07,199.44L79.41,199.29L79.74,199.11L80.07,198.92L80.41,198.71L80.74,198.49L81.08,198.25L81.41,197.99L81.74,197.72L82.08,197.43L82.41,197.14L82.74,196.83L83.08,196.52L83.41,196.21L83.75,195.89L84.08,195.57L84.41,195.25L84.75,194.93L85.08,194.61L85.41,194.29L85.75,193.98L86.08,193.68L86.42,193.39L86.75,193.11L87.08,192.84L87.42,192.58L87.75,192.34L88.08,192.12L88.42,191.91L88.75,191.73L89.09,191.57L89.42,191.43L89.75,191.32L90.09,191.23L90.42,191.17L90.75,191.14L91.09,191.13L91.42,191.15L91.76,191.20L92.09,191.28L92.42,191.37L92.76,191.49L93.09,191.63L93.42,191.78L93.76,191.96L94.09,192.14L94.43,192.34L94.76,192.55L95.09,192.77L95.43,192.99L95.76,193.22L96.09,193.46L96.43,193.69L96.76,193.93L97.10,194.16L97.43,194.39L97.76,194.62L98.10,194.83L98.43,195.04L98.76,195.24L99.10,195.43L99.43,195.60L99.77,195.75L100.10,195.89L100.43,196.01L100.77,196.11L101.10,196.18L101.43,196.24L101.77,196.28L102.10,196.30L102.44,196.30L102.77,196.30L103.10,196.28L103.44,196.27L103.77,196.24L104.10,196.21L104.44,196.18L104.77,196.14L105.10,196.10L105.44,196.06L105.77,196.01L106.11,195.96L106.44,195.91L106.77,195.85L107.11,195.79L107.44,195.73L107.77,195.67L108.11,195.60L108.44,195.53L108.78,195.45L109.11,195.36L109.44,195.26L109.78,195.14L110.11,195.00L110.44,194.85L110.78,194.67L111.11,194.49L111.45,194.29L111.78,194.08L112.11,193.86L112.45,193.64L112.78,193.41L113.11,193.17L113.45,192.94L113.78,192.70L114.12,192.47L114.45,192.24L114.78,192.02L115.12,191.81L115.45,191.61L115.78,191.42L116.12,191.24L116.45,191.08L116.79,190.92L117.12,190.78L117.45,190.63L117.79,190.50L118.12,190.36L118.45,190.23L118.79,190.09L119.12,189.96L119.46,189.83L119.79,189.70L120.12,189.57L120.46,189.45L120.79,189.33L121.12,189.21L121.46,189.10L121.79,188.99L122.13,188.89L122.46,188.79L122.79,188.70L123.13,188.62L123.46,188.54L123.79,188.47L124.13,188.41L124.46,188.36L124.80,188.32L125.13,188.29L125.46,188.28L125.80,188.28L126.13,188.31L126.46,188.35L126.80,188.43L127.13,188.53L127.47,188.66L127.80,188.82L128.13,189.00L128.47,189.21L128.80,189.44L129.13,189.69L129.47,189.96L129.80,190.25L130.14,190.55L130.47,190.86L130.80,191.18L131.14,191.51L131.47,191.84L131.80,192.18L132.14,192.52L132.47,192.87L132.81,193.23L133.14,193.59L133.47,193.97L133.81,194.37L134.14,194.80L134.47,195.25L134.81,195.72L135.14,196.22L135.48,196.74L135.81,197.28L136.14,197.83L136.48,198.40L136.81,198.97L137.14,199.54L137.48,200.12L137.81,200.68L138.15,201.25L138.48,201.80L138.81,202.33L139.15,202.85L139.48,203.35L139.81,203.83L140.15,204.29L140.48,204.72L140.81,205.14L141.15,205.55L141.48,205.95L141.82,206.33L142.15,206.71L142.48,207.08L142.82,207.45L143.15,207.80L143.48,208.15L143.82,208.48L144.15,208.80L144.49,209.12L144.82,209.42L145.15,209.71L145.49,209.99L145.82,210.26L146.15,210.53L146.49,210.79L146.82,211.05L147.16,211.30L147.49,211.56L147.82,211.81L148.16,212.05L148.49,212.28L148.82,212.50L149.16,212.70L149.49,212.89L149.83,213.05L150.16,213.18L150.49,213.29L150.83,213.37L151.16,213.43L151.49,213.45L151.83,213.45L152.16,213.43L152.50,213.39L152.83,213.34L153.16,213.26L153.50,213.18L153.83,213.08L154.16,212.98L154.50,212.86L154.83,212.73L155.17,212.60L155.50,212.45L155.83,212.30L156.17,212.15L156.50,211.98L156.83,211.82L157.17,211.65L157.50,211.47L157.84,211.29L158.17,211.10L158.50,210.90L158.84,210.68L159.17,210.44L159.50,210.17L159.84,209.87L160.17,209.54L160.51,209.18L160.84,208.80L161.17,208.40L161.51,207.98L161.84,207.55L162.17,207.12L162.51,206.68L162.84,206.25L163.18,205.82L163.51,205.41L163.84,205.01L164.18,204.63L164.51,204.27L164.84,203.95L165.18,203.66L165.51,203.41L165.85,203.20L166.18,203.03L166.51,202.90L166.85,202.82L167.18,202.78L167.51,202.76L167.85,202.78L168.18,202.81L168.52,202.86L168.85,202.93L169.18,203.00L169.52,203.09L169.85,203.19L170.18,203.30L170.52,203.42L170.85,203.55L171.19,203.69L171.52,203.84L171.85,203.99L172.19,204.16L172.52,204.32L172.85,204.50L173.19,204.68L173.52,204.86L173.86,205.05L174.19,205.24L174.52,205.44L174.86,205.63L175.19,205.83L175.52,206.03L175.86,206.24L176.19,206.44L176.52,206.64L176.86,206.84L177.19,207.04L177.53,207.24L177.86,207.43L178.19,207.63L178.53,207.81L178.86,208.00L179.19,208.18L179.53,208.35L179.86,208.52L180.20,208.68L180.53,208.84L180.86,208.98L181.20,209.12L181.53,209.25L181.86,209.37L182.20,209.49L182.53,209.59L182.87,209.68L183.20,209.75L183.53,209.82L183.87,209.87L184.20,209.91L184.53,209.94L184.87,209.95L185.20,209.94L185.54,209.91L185.87,209.86L186.20,209.79L186.54,209.70L186.87,209.59L187.20,209.46L187.54,209.32L187.87,209.15L188.21,208.97L188.54,208.77L188.87,208.55L189.21,208.32L189.54,208.08L189.87,207.82L190.21,207.55L190.54,207.27L190.88,206.98L191.21,206.68L191.54,206.36L191.88,206.04L192.21,205.72L192.54,205.38L192.88,205.04L193.21,204.70L193.55,204.35L193.88,203.99L194.21,203.64L194.55,203.28L194.88,202.92L195.21,202.56L195.55,202.20L195.88,201.84L196.22,201.48L196.55,201.13L196.88,200.78L197.22,200.43L197.55,200.09L197.88,199.75L198.22,199.43L198.55,199.11L198.89,198.79L199.22,198.49L199.55,198.20L199.89,197.92L200.22,197.65L200.55,197.39L200.89,197.14L201.22,196.91L201.56,196.70L201.89,196.50L202.22,196.31L202.56,196.15L202.89,196.00L203.22,195.87L203.56,195.76L203.89,195.67L204.23,195.60L204.56,195.55L204.89,195.52L205.23,195.52L205.56,195.53L205.89,195.57L206.23,195.62L206.56,195.70L206.90,195.79L207.23,195.90L207.56,196.02L207.90,196.16L208.23,196.31L208.56,196.48L208.90,196.66L209.23,196.85L209.57,197.05L209.90,197.26L210.23,197.48L210.57,197.71L210.90,197.95L211.23,198.20L211.57,198.45L211.90,198.70L212.23,198.97L212.57,199.23L212.90,199.50L213.24,199.77L213.57,200.04L213.90,200.31L214.24,200.58L214.57,200.85L214.90,201.12L215.24,201.38L215.57,201.64L215.91,201.90L216.24,202.15L216.57,202.39L216.91,202.63L217.24,202.86L217.57,203.08L217.91,203.29L218.24,203.49L218.58,203.69L218.91,203.86L219.24,204.03L219.58,204.18L219.91,204.32L220.24,204.45L220.58,204.55L220.91,204.64L221.25,204.72L221.58,204.77L221.91,204.80L222.25,204.81L222.58,204.79L222.91,204.75L223.25,204.67L223.58,204.57L223.92,204.44L224.25,204.28L224.58,204.09L224.92,203.87L225.25,203.62L225.58,203.36L225.92,203.06L226.25,202.75L226.59,202.41L226.92,202.05L227.25,201.67L227.59,201.28L227.92,200.87L228.25,200.44L228.59,199.99L228.92,199.54L229.26,199.07L229.59,198.59L229.92,198.10L230.26,197.60L230.59,197.10L230.92,196.59L231.26,196.07L231.59,195.55L231.93,195.02L232.26,194.50L232.59,193.97L232.93,193.45L233.26,192.92L233.59,192.40L233.93,191.88L234.26,191.37L234.60,190.87L234.93,190.37L235.26,189.88L235.60,189.40L235.93,188.94L236.26,188.48L236.60,188.04L236.93,187.61L237.27,187.20L237.60,186.81L237.93,186.44L238.27,186.08L238.60,185.74L238.93,185.43L239.27,185.14L239.60,184.87L239.94,184.63L240.27,184.42L240.60,184.23L240.94,184.07L241.27,183.94L241.60,183.84L241.94,183.78L242.27,183.74L242.61,183.74L242.94,183.77L243.27,183.83L243.61,183.92L243.94,184.04L244.27,184.19L244.61,184.37L244.94,184.57L245.28,184.80L245.61,185.05L245.94,185.32L246.28,185.61L246.61,185.92L246.94,186.25L247.28,186.60L247.61,186.96L247.94,187.34L248.28,187.73L248.61,188.13L248.95,188.55L249.28,188.97L249.61,189.40L249.95,189.84L250.28,190.28L250.61,190.73L250.95,191.18L251.28,191.63L251.62,192.08L251.95,192.54L252.28,192.99L252.62,193.43L252.95,193.88L253.28,194.31L253.62,194.74L253.95,195.16L254.29,195.58L254.62,195.98L254.95,196.37L255.29,196.74L255.62,197.10L255.95,197.45L256.29,197.78L256.62,198.09L256.96,198.38L257.29,198.65L257.62,198.90L257.96,199.12L258.29,199.32L258.62,199.50L258.96,199.64L259.29,199.76L259.63,199.85L259.96,199.91L260.29,199.94L260.63,199.94L260.96,199.91L261.29,199.86L261.63,199.77L261.96,199.67L262.30,199.53L262.63,199.37L262.96,199.20L263.30,198.99L263.63,198.77L263.96,198.54L264.30,198.28L264.63,198.01L264.97,197.72L265.30,197.41L265.63,197.10L265.97,196.77L266.30,196.43L266.63,196.09L266.97,195.73L267.30,195.37L267.64,195.00L267.97,194.62L268.30,194.25L268.64,193.87L268.97,193.48L269.30,193.10L269.64,192.72L269.97,192.34L270.31,191.96L270.64,191.59L270.97,191.23L271.31,190.87L271.64,190.51L271.97,190.17L272.31,189.84L272.64,189.51L272.98,189.20L273.31,188.91L273.64,188.63L273.98,188.36L274.31,188.11L274.64,187.88L274.98,187.67L275.31,187.48L275.65,187.31L275.98,187.16L276.31,187.04L276.65,186.94L276.98,186.87L277.31,186.83L277.65,186.82L277.98,186.83L278.32,186.88L278.65,186.95L278.98,187.06L279.32,187.20L279.65,187.36L279.98,187.56L280.32,187.78L280.65,188.02L280.99,188.30L281.32,188.59L281.65,188.91L281.99,189.25L282.32,189.61L282.65,189.99L282.99,190.39L283.32,190.80L283.65,191.23L283.99,191.68L284.32,192.14L284.66,192.61L284.99,193.10L285.32,193.59L285.66,194.10L285.99,194.61L286.32,195.13L286.66,195.66L286.99,196.19L287.33,196.72L287.66,197.26L287.99,197.80L288.33,198.34L288.66,198.88L288.99,199.42L289.33,199.96L289.66,200.49L290.00,201.02L290.33,201.54L290.66,202.05L291.00,202.56L291.33,203.06L291.66,203.55L292.00,204.02L292.33,204.49L292.67,204.94L293.00,205.37L293.33,205.79L293.67,206.19L294.00,206.58L294.33,206.94L294.67,207.29L295.00,207.61L295.34,207.91L295.67,208.19L296.00,208.44L296.34,208.67L296.67,208.87L297.00,209.05L297.34,209.19L297.67,209.31L298.01,209.39L298.34,209.45L298.67,209.47L299.01,209.47L299.34,209.45L299.67,209.40L300.01,209.33L300.34,209.24L300.68,209.13L301.01,209.00L301.34,208.86L301.68,208.70L302.01,208.52L302.34,208.34L302.68,208.14L303.01,207.93L303.35,207.71L303.68,207.48L304.01,207.24L304.35,207.00L304.68,206.75L305.01,206.49L305.35,206.24L305.68,205.98L306.02,205.72L306.35,205.46L306.68,205.20L307.02,204.94L307.35,204.68L307.68,204.43L308.02,204.19L308.35,203.95L308.69,203.72L309.02,203.50L309.35,203.28L309.69,203.08L310.02,202.89L310.35,202.71L310.69,202.55L311.02,202.40L311.36,202.27L311.69,202.15L312.02,202.05L312.36,201.98L312.69,201.92L313.02,201.89L313.36,201.88L313.69,201.90L314.03,201.95L314.36,202.03L314.69,202.13L315.03,202.27L315.36,202.43L315.69,202.62L316.03,202.84L316.36,203.09L316.70,203.36L317.03,203.65L317.36,203.96L317.70,204.30L318.03,204.66L318.36,205.03L318.70,205.43L319.03,205.84L319.37,206.27L319.70,206.71L320.03,207.16L320.37,207.63L320.70,208.11L321.03,208.60L321.37,209.10L321.70,209.60L322.03,210.12L322.37,210.64L322.70,211.16L323.04,211.69L323.37,212.22L323.70,212.75L324.04,213.28L324.37,213.81L324.70,214.34L325.04,214.87L325.37,215.39L325.71,215.91L326.04,216.42L326.37,216.92L326.71,217.42L327.04,217.90L327.37,218.38L327.71,218.84L328.04,219.29L328.38,219.72L328.71,220.14L329.04,220.55L329.38,220.94L329.71,221.30L330.04,221.65L330.38,221.98L330.71,222.29L331.05,222.57L331.38,222.83L331.71,223.07L332.05,223.28L332.38,223.46L332.71,223.61L333.05,223.73L333.38,223.83L333.72,223.89L334.05,223.92L334.38,223.92L334.72,223.90L335.05,223.84L335.38,223.76L335.72,223.65L336.05,223.51L336.39,223.35L336.72,223.17L337.05,222.96L337.39,222.74L337.72,222.49L338.05,222.23L338.39,221.95L338.72,221.65L339.06,221.34L339.39,221.01L339.72,220.67L340.06,220.32L340.39,219.96L340.72,219.58L341.06,219.20L341.39,218.81L341.73,218.42L342.06,218.01L342.39,217.61L342.73,217.20L343.06,216.79L343.39,216.37L343.73,215.96L344.06,215.55L344.40,215.14L344.73,214.73L345.06,214.33L345.40,213.93L345.73,213.54L346.06,213.16L346.40,212.78L346.73,212.42L347.07,212.07L347.40,211.72L347.73,211.40L348.07,211.08L348.40,210.78L348.73,210.50L349.07,210.23L349.40,209.99L349.74,209.76L350.07,209.55L350.40,209.37L350.74,209.20L351.07,209.07L351.40,208.95L351.74,208.86L352.07,208.80L352.41,208.77L352.74,208.76L353.07,208.78L353.41,208.83L353.74,208.90L354.07,208.99L354.41,209.11L354.74,209.25L355.08,209.41L355.41,209.59L355.74,209.78L356.08,210.00L356.41,210.23L356.74,210.48L357.08,210.73L357.41,211.01L357.74,211.29L358.08,211.58L358.41,211.89L358.75,212.20L359.08,212.51L359.41,212.84L359.75,213.16L360.08,213.49L360.41,213.83L360.75,214.16L361.08,214.49L361.42,214.82L361.75,215.15L362.08,215.48L362.42,215.80L362.75,216.12L363.08,216.42L363.42,216.72L363.75,217.01L364.09,217.29L364.42,217.56L364.75,217.81L365.09,218.05L365.42,218.28L365.75,218.49L366.09,218.68L366.42,218.85L366.76,219.01L367.09,219.14L367.42,219.25L367.76,219.33L368.09,219.39L368.42,219.43L368.76,219.43L369.09,219.41L369.43,219.36L369.76,219.27L370.09,219.16L370.43,219.01L370.76,218.84L371.09,218.64L371.43,218.41L371.76,218.15L372.10,217.87L372.43,217.57L372.76,217.24L373.10,216.88L373.43,216.51L373.76,216.12L374.10,215.71L374.43,215.27L374.77,214.83L375.10,214.36L375.43,213.88L375.77,213.39L376.10,212.88L376.43,212.36L376.77,211.83L377.10,211.29L377.44,210.74L377.77,210.18L378.10,209.62L378.44,209.05L378.77,208.47L379.10,207.89L379.44,207.31L379.77,206.73L380.11,206.14L380.44,205.55L380.77,204.97L381.11,204.39L381.44,203.81L381.77,203.23L382.11,202.67L382.44,202.10L382.78,201.55L383.11,201.00L383.44,200.46L383.78,199.93L384.11,199.42L384.44,198.91L384.78,198.42L385.11,197.94L385.45,197.48L385.78,197.04L386.11,196.61L386.45,196.20L386.78,195.82L387.11,195.45L387.45,195.10L387.78,194.78L388.12,194.48L388.45,194.20L388.78,193.95L389.12,193.73L389.45,193.53L389.78,193.37L390.12,193.23L390.45,193.12L390.79,193.04L391.12,192.99L391.45,192.97L391.79,192.97L392.12,193.00L392.45,193.05L392.79,193.11L393.12,193.20L393.45,193.29L393.79,193.41L394.12,193.54L394.46,193.68L394.79,193.84L395.12,194.00L395.46,194.18L395.79,194.37L396.12,194.57L396.46,194.78L396.79,195.00L397.13,195.22L397.46,195.46L397.79,195.70L398.13,195.94L398.46,196.19L398.79,196.44L399.13,196.69L399.46,196.95L399.80,197.21L400.13,197.47L400.46,197.73L400.80,197.99L401.13,198.25L401.46,198.50L401.80,198.75L402.13,199.00L402.47,199.25L402.80,199.49L403.13,199.72L403.47,199.94L403.80,200.16L404.13,200.37L404.47,200.57L404.80,200.76L405.14,200.94L405.47,201.11L405.80,201.27L406.14,201.41L406.47,201.54L406.80,201.66L407.14,201.76L407.47,201.84L407.81,201.91L408.14,201.96L408.47,201.99L408.81,202.00L409.14,201.99L409.47,201.97L409.81,201.92L410.14,201.85L410.48,201.76L410.81,201.65L411.14,201.52L411.48,201.37L411.81,201.21L412.14,201.03L412.48,200.83L412.81,200.62L413.15,200.40L413.48,200.16L413.81,199.92L414.15,199.66L414.48,199.39L414.81,199.11L415.15,198.82L415.48,198.52L415.82,198.22L416.15,197.91L416.48,197.60L416.82,197.28L417.15,196.96L417.48,196.63L417.82,196.30L418.15,195.98L418.49,195.65L418.82,195.32L419.15,194.99L419.49,194.67L419.82,194.35L420.15,194.03L420.49,193.72L420.82,193.41L421.16,193.11L421.49,192.82L421.82,192.54L422.16,192.26L422.49,192.00L422.82,191.74L423.16,191.50L423.49,191.27L423.83,191.06L424.16,190.85L424.49,190.67L424.83,190.49L425.16,190.34L425.49,190.20L425.83,190.08L426.16,189.98L426.50,189.90L426.83,189.84L427.16,189.81L427.50,189.80L427.83,189.81L428.16,189.84L428.50,189.90L428.83,189.99L429.16,190.10L429.50,190.23L429.83,190.39L430.17,190.57L430.50,190.76L430.83,190.98L431.17,191.22L431.50,191.47L431.83,191.73L432.17,192.02L432.50,192.31L432.84,192.62L433.17,192.94L433.50,193.27L433.84,193.61L434.17,193.96L434.50,194.32L434.84,194.68L435.17,195.04L435.51,195.41L435.84,195.79L436.17,196.16L436.51,196.54L436.84,196.91L437.17,197.28L437.51,197.65L437.84,198.02L438.18,198.38L438.51,198.73L438.84,199.08L439.18,199.42L439.51,199.75L439.84,200.07L440.18,200.38L440.51,200.67L440.85,200.95L441.18,201.22L441.51,201.47L441.85,201.70L442.18,201.92L442.51,202.12L442.85,202.29L443.18,202.45L443.52,202.58L443.85,202.69L444.18,202.77L444.52,202.83L444.85,202.87L445.18,202.88L445.52,202.87L445.85,202.84L446.19,202.79L446.52,202.72L446.85,202.63L447.19,202.53L447.52,202.41L447.85,202.27L448.19,202.13L448.52,201.96L448.86,201.79L449.19,201.60L449.52,201.40L449.86,201.20L450.19,200.98L450.52,200.75L450.86,200.51L451.19,200.27L451.53,200.02L451.86,199.76L452.19,199.50L452.53,199.23L452.86,198.96L453.19,198.68L453.53,198.41L453.86,198.13L454.20,197.85L454.53,197.56L454.86,197.28L455.20,197.00L455.53,196.72L455.86,196.45L456.20,196.18L456.53,195.91L456.87,195.64L457.20,195.38L457.53,195.13L457.87,194.88L458.20,194.64L458.53,194.41L458.87,194.19L459.20,193.98L459.54,193.78L459.87,193.59L460.20,193.41L460.54,193.24L460.87,193.09L461.20,192.95L461.54,192.83L461.87,192.72L462.21,192.62L462.54,192.55L462.87,192.49L463.21,192.45L463.54,192.44L463.87,192.44L464.21,192.47L464.54,192.53L464.87,192.61L465.21,192.71L465.54,192.84L465.88,193.00L466.21,193.18L466.54,193.38L466.88,193.60L467.21,193.85L467.54,194.11L467.88,194.40L468.21,194.70L468.55,195.02L468.88,195.35L469.21,195.70L469.55,196.06L469.88,196.44L470.21,196.82L470.55,197.22L470.88,197.63L471.22,198.05L471.55,198.47L471.88,198.90L472.22,199.34L472.55,199.78L472.88,200.23L473.22,200.68L473.55,201.13L473.89,201.59L474.22,202.04L474.55,202.49L474.89,202.94L475.22,203.39L475.55,203.84L475.89,204.27L476.22,204.71L476.56,205.13L476.89,205.55L477.22,205.96L477.56,206.36L477.89,206.75L478.22,207.13L478.56,207.49L478.89,207.84L479.23,208.18L479.56,208.50L479.89,208.80L480.23,209.09L480.56,209.36L480.89,209.61L481.23,209.83L481.56,210.04L481.90,210.22L482.23,210.38L482.56,210.52L482.90,210.62L483.23,210.70L483.56,210.76L483.90,210.78L484.23,210.76L484.57,210.71L484.90,210.62L485.23,210.50L485.57,210.33L485.90,210.14L486.23,209.91L486.57,209.65L486.90,209.37L487.24,209.07L487.57,208.74L487.90,208.40L488.24,208.04L488.57,207.68L488.90,207.30L489.24,206.92L489.57,206.54L489.91,206.16L490.24,205.78L490.57,205.42L490.91,205.06L491.24,204.71L491.57,204.38L491.91,204.07L492.24,203.79L492.58,203.53L492.91,203.29L493.24,203.09L493.58,202.92L493.91,202.79L494.24,202.70L494.58,202.65L494.91,202.65L495.25,202.68L495.58,202.77L495.91,202.89L496.25,203.06L496.58,203.26L496.91,203.51L497.25,203.79L497.58,204.10L497.92,204.45L498.25,204.82L498.58,205.22L498.92,205.65L499.25,206.09L499.58,206.56L499.92,207.05L500.25,207.55L500.58,208.06L500.92,208.59L501.25,209.12L501.59,209.66L501.92,210.21L502.25,210.75L502.59,211.30L502.92,211.85L503.25,212.39L503.59,212.92L503.92,213.45L504.26,213.96L504.59,214.46L504.92,214.96L505.26,215.44L505.59,215.91L505.92,216.38L506.26,216.86L506.59,217.34L506.93,217.84L507.26,218.35L507.59,218.87L507.93,219.41L508.26,219.97L508.59,220.53L508.93,221.10L509.26,221.68L509.60,222.27L509.93,222.86L510.26,223.45L510.60,224.04L510.93,224.62L511.26,225.21L511.60,225.79L511.93,226.36L512.27,226.92L512.60,227.47L512.93,228.00L513.27,228.52L513.60,229.02L513.93,229.51L514.27,229.97L514.60,230.41L514.94,230.83L515.27,231.21L515.60,231.57L515.94,231.90L516.27,232.20L516.60,232.46L516.94,232.69L517.27,232.88L517.61,233.04L517.94,233.15L518.27,233.23L518.61,233.28L518.94,233.30L519.27,233.30L519.61,233.27L519.94,233.23L520.28,233.18L520.61,233.11L520.94,233.04L521.28,232.94L521.61,232.84L521.94,232.72L522.28,232.58L522.61,232.44L522.95,232.28L523.28,232.10L523.61,231.91L523.95,231.71L524.28,231.49L524.61,231.25L524.95,231.00L525.28,230.74L525.62,230.45L525.95,230.16L526.28,229.84L526.62,229.51L526.95,229.16L527.28,228.80L527.62,228.42L527.95,228.02L528.29,227.60L528.62,227.17L528.95,226.71L529.29,226.24L529.62,225.75L529.95,225.25L530.29,224.72L530.62,224.17L530.96,223.61L531.29,223.02L531.62,222.42L531.96,221.79L532.29,221.14L532.62,220.48L532.96,219.80L533.29,219.10L533.63,218.40L533.96,217.71L534.29,217.07L534.63,216.51L534.96,216.05" stroke="#00f" stroke-dasharray="1.6 5 9.2 5"/>
</g>
<rect x="68.06" y="157.98" width="466.90" height="88.17" fill="none" stroke="#000" stroke-width="1.25"/>
<path d="M184.78,246.15V241.48M184.78,157.98V162.65M301.51,246.15V241.48M301.51,157.98V162.65M418.24,246.15V241.48M418.24,157.98V162.65M68.06,202.06H72.73M534.96,202.06H530.29" stroke="#000" stroke-width="1" fill="none"/>
<text transform="translate(68.06,264.85) scale(1,1.1)" text-anchor="middle">0</text>
<text transform="translate(184.78,264.85) scale(1,1.1)" text-anchor="middle">5</text>
<text transform="translate(301.51,264.85) scale(1,1.1)" text-anchor="middle">10</text>
<text transform="translate(418.24,264.85) scale(1,1.1)" text-anchor="middle">15</text>
<text transform="translate(534.96,264.85) scale(1,1.1)" text-anchor="middle">20</text>
<text transform="translate(64.06,252.35) scale(1,1.1)" text-anchor="end">150</text>
<text transform="translate(64.06,208.26) scale(1,1.1)" text-anchor="end">200</text>
<text transform="translate(64.06,164.18) scale(1,1.1)" text-anchor="end">250</text>
<text transform="translate(301.51,282.40) scale(1,1.1)" text-anchor="middle">Time (s)</text>
<text transform="translate(30.20,202.47) scale(1,1.0) rotate(-90)" text-anchor="middle" font-size="14.9" letter-spacing="0.03">Sway (N)</text>
<rect x="402.2" y="165.71" width="125.75" height="41.71" fill="#fff" stroke="#000" stroke-width="1.1"/>
<path d="M410.6,176.88H454" stroke="#f00" stroke-width="1.7"/>
<path d="M410.4,195.68H454" stroke="#00f" stroke-width="1.7" stroke-dasharray="1.6 5 9.2 5"/>
<text transform="translate(458.00,181.88) scale(1,1.1)">Follower 1</text>
<text transform="translate(458.00,200.78) scale(1,1.1)">Follower 2</text>
<defs><clipPath id="c2"><rect x="68.06" y="300.09" width="466.90000000000003" height="88.15000000000003"/></clipPath></defs>
<g clip-path="url(#c2)" fill="none" stroke-width="1.7" stroke-linejoin="round">
<path d="M68.06,339.49L68.39,339.49L68.73,339.49L69.06,339.49L69.39,339.49L69.73,339.49L70.06,339.49L70.40,339.49L70.73,339.49L71.06,339.49L71.40,339.49L71.73,339.49L72.06,339.49L72.40,339.49L72.73,339.49L73.07,339.49L73.40,339.49L73.73,339.49L74.07,339.49L74.40,339.49L74.73,339.49L75.07,339.49L75.40,339.49L75.74,339.49L76.07,339.49L76.40,339.49L76.74,339.49L77.07,339.49L77.40,339.49L77.74,339.49L78.07,339.49L78.41,339.49L78.74,339.49L79.07,339.49L79.41,339.49L79.74,339.49L80.07,339.49L80.41,339.49L80.74,339.49L81.08,339.49L81.41,339.49L81.74,339.49L82.08,339.49L82.41,339.49L82.74,339.49L83.08,339.49L83.41,339.49L83.75,339.49L84.08,339.49L84.41,339.49L84.75,339.49L85.08,339.49L85.41,339.49L85.75,339.49L86.08,339.49L86.42,339.49L86.75,339.49L87.08,339.49L87.42,339.49L87.75,339.49L88.08,339.49L88.42,339.49L88.75,339.49L89.09,339.49L89.42,339.49L89.75,339.49L90.09,339.49L90.42,339.49L90.75,339.49L91.09,339.49L91.42,339.49L91.76,339.49L92.09,339.49L92.42,339.49L92.76,339.49L93.09,339.49L93.42,339.49L93.76,339.49L94.09,339.49L94.43,339.49L94.76,339.49L95.09,339.49L95.43,339.49L95.76,339.49L96.09,339.49L96.43,339.49L96.76,339.49L97.10,339.49L97.43,339.49L97.76,339.49L98.10,339.49L98.43,339.49L98.76,339.49L99.10,339.49L99.43,339.49L99.77,339.49L100.10,339.49L100.43,339.49L100.77,339.49L101.10,339.49L101.43,339.49L101.77,339.49L102.10,339.49L102.44,339.49L102.77,339.49L103.10,339.49L103.44,339.49L103.77,339.49L104.10,339.49L104.44,339.49L104.77,339.49L105.10,339.49L105.44,339.49L105.77,339.48L106.11,339.47L106.44,339.46L106.77,339.45L107.11,339.43L107.44,339.41L107.77,339.39L108.11,339.37L108.44,339.34L108.78,339.31L109.11,339.27L109.44,339.24L109.78,339.20L110.11,339.16L110.44,339.12L110.78,339.07L111.11,339.03L111.45,338.98L111.78,338.94L112.11,338.89L112.45,338.84L112.78,338.79L113.11,338.74L113.45,338.69L113.78,338.63L114.12,338.58L114.45,338.53L114.78,338.48L115.12,338.43L115.45,338.38L115.78,338.33L116.12,338.28L116.45,338.24L116.79,338.19L117.12,338.14L117.45,338.10L117.79,338.06L118.12,338.02L118.45,337.98L118.79,337.95L119.12,337.91L119.46,337.88L119.79,337.85L120.12,337.83L120.46,337.81L120.79,337.79L121.12,337.77L121.46,337.76L121.79,337.75L122.13,337.74L122.46,337.74L122.79,337.74L123.13,337.74L123.46,337.74L123.79,337.74L124.13,337.75L124.46,337.76L124.80,337.76L125.13,337.77L125.46,337.78L125.80,337.79L126.13,337.81L126.46,337.82L126.80,337.84L127.13,337.85L127.47,337.87L127.80,337.89L128.13,337.91L128.47,337.93L128.80,337.96L129.13,337.98L129.47,338.01L129.80,338.03L130.14,338.06L130.47,338.09L130.80,338.12L131.14,338.15L131.47,338.19L131.80,338.22L132.14,338.26L132.47,338.30L132.81,338.34L133.14,338.38L133.47,338.42L133.81,338.46L134.14,338.51L134.47,338.55L134.81,338.60L135.14,338.65L135.48,338.70L135.81,338.75L136.14,338.80L136.48,338.86L136.81,338.91L137.14,338.97L137.48,339.04L137.81,339.10L138.15,339.18L138.48,339.27L138.81,339.38L139.15,339.52L139.48,339.69L139.81,339.89L140.15,340.12L140.48,340.38L140.81,340.67L141.15,340.98L141.48,341.30L141.82,341.64L142.15,342.00L142.48,342.36L142.82,342.72L143.15,343.08L143.48,343.45L143.82,343.82L144.15,344.19L144.49,344.58L144.82,344.99L145.15,345.42L145.49,345.87L145.82,346.34L146.15,346.82L146.49,347.31L146.82,347.80L147.16,348.28L147.49,348.75L147.82,349.20L148.16,349.62L148.49,350.00L148.82,350.34L149.16,350.63L149.49,350.85L149.83,351.02L150.16,351.10L150.49,351.09L150.83,351.00L151.16,350.81L151.49,350.52L151.83,350.13L152.16,349.66L152.50,349.11L152.83,348.49L153.16,347.82L153.50,347.09L153.83,346.33L154.16,345.54L154.50,344.74L154.83,343.93L155.17,343.13L155.50,342.34L155.83,341.57L156.17,340.82L156.50,340.09L156.83,339.37L157.17,338.65L157.50,337.92L157.84,337.18L158.17,336.41L158.50,335.63L158.84,334.84L159.17,334.04L159.50,333.24L159.84,332.46L160.17,331.69L160.51,330.95L160.84,330.25L161.17,329.59L161.51,328.98L161.84,328.44L162.17,327.96L162.51,327.56L162.84,327.24L163.18,327.00L163.51,326.86L163.84,326.82L164.18,326.85L164.51,326.98L164.84,327.18L165.18,327.45L165.51,327.79L165.85,328.19L166.18,328.63L166.51,329.13L166.85,329.66L167.18,330.22L167.51,330.81L167.85,331.42L168.18,332.04L168.52,332.67L168.85,333.30L169.18,333.93L169.52,334.54L169.85,335.13L170.18,335.70L170.52,336.24L170.85,336.74L171.19,337.20L171.52,337.61L171.85,337.98L172.19,338.30L172.52,338.58L172.85,338.83L173.19,339.05L173.52,339.25L173.86,339.44L174.19,339.60L174.52,339.76L174.86,339.90L175.19,340.02L175.52,340.13L175.86,340.23L176.19,340.31L176.52,340.38L176.86,340.45L177.19,340.51L177.53,340.56L177.86,340.62L178.19,340.69L178.53,340.78L178.86,340.89L179.19,341.03L179.53,341.21L179.86,341.43L180.20,341.70L180.53,342.01L180.86,342.37L181.20,342.76L181.53,343.19L181.86,343.64L182.20,344.13L182.53,344.63L182.87,345.16L183.20,345.69L183.53,346.24L183.87,346.79L184.20,347.34L184.53,347.88L184.87,348.42L185.20,348.94L185.54,349.44L185.87,349.93L186.20,350.38L186.54,350.81L186.87,351.20L187.20,351.55L187.54,351.86L187.87,352.12L188.21,352.32L188.54,352.46L188.87,352.53L189.21,352.52L189.54,352.41L189.87,352.21L190.21,351.90L190.54,351.49L190.88,350.99L191.21,350.40L191.54,349.74L191.88,349.01L192.21,348.22L192.54,347.39L192.88,346.53L193.21,345.65L193.55,344.76L193.88,343.86L194.21,342.98L194.55,342.11L194.88,341.26L195.21,340.42L195.55,339.59L195.88,338.74L196.22,337.88L196.55,336.99L196.88,336.07L197.22,335.13L197.55,334.17L197.88,333.21L198.22,332.26L198.55,331.32L198.89,330.42L199.22,329.56L199.55,328.77L199.89,328.05L200.22,327.41L200.55,326.87L200.89,326.44L201.22,326.13L201.56,325.95L201.89,325.89L202.22,325.96L202.56,326.16L202.89,326.46L203.22,326.87L203.56,327.36L203.89,327.91L204.23,328.52L204.56,329.17L204.89,329.84L205.23,330.51L205.56,331.18L205.89,331.83L206.23,332.44L206.56,333.02L206.90,333.57L207.23,334.08L207.56,334.57L207.90,335.05L208.23,335.51L208.56,335.96L208.90,336.39L209.23,336.79L209.57,337.15L209.90,337.48L210.23,337.77L210.57,338.01L210.90,338.21L211.23,338.36L211.57,338.49L211.90,338.60L212.23,338.68L212.57,338.75L212.90,338.82L213.24,338.89L213.57,338.95L213.90,339.02L214.24,339.11L214.57,339.20L214.90,339.32L215.24,339.47L215.57,339.66L215.91,339.88L216.24,340.15L216.57,340.46L216.91,340.81L217.24,341.20L217.57,341.63L217.91,342.09L218.24,342.58L218.58,343.09L218.91,343.63L219.24,344.18L219.58,344.76L219.91,345.34L220.24,345.93L220.58,346.53L220.91,347.12L221.25,347.72L221.58,348.30L221.91,348.88L222.25,349.44L222.58,349.99L222.91,350.52L223.25,351.02L223.58,351.49L223.92,351.94L224.25,352.34L224.58,352.71L224.92,353.04L225.25,353.32L225.58,353.55L225.92,353.72L226.25,353.82L226.59,353.83L226.92,353.75L227.25,353.56L227.59,353.25L227.92,352.81L228.25,352.24L228.59,351.55L228.92,350.75L229.26,349.83L229.59,348.82L229.92,347.72L230.26,346.55L230.59,345.31L230.92,344.02L231.26,342.69L231.59,341.32L231.93,339.93L232.26,338.53L232.59,337.13L232.93,335.73L233.26,334.36L233.59,333.02L233.93,331.72L234.26,330.47L234.60,329.28L234.93,328.17L235.26,327.14L235.60,326.21L235.93,325.38L236.26,324.67L236.60,324.08L236.93,323.62L237.27,323.31L237.60,323.13L237.93,323.10L238.27,323.21L238.60,323.45L238.93,323.80L239.27,324.27L239.60,324.82L239.94,325.47L240.27,326.18L240.60,326.95L240.94,327.76L241.27,328.61L241.60,329.47L241.94,330.34L242.27,331.21L242.61,332.06L242.94,332.88L243.27,333.65L243.61,334.37L243.94,335.03L244.27,335.61L244.61,336.13L244.94,336.58L245.28,336.97L245.61,337.31L245.94,337.62L246.28,337.90L246.61,338.16L246.94,338.41L247.28,338.64L247.61,338.86L247.94,339.06L248.28,339.25L248.61,339.42L248.95,339.58L249.28,339.73L249.61,339.86L249.95,339.98L250.28,340.09L250.61,340.18L250.95,340.27L251.28,340.36L251.62,340.44L251.95,340.54L252.28,340.65L252.62,340.78L252.95,340.94L253.28,341.13L253.62,341.37L253.95,341.66L254.29,342.00L254.62,342.39L254.95,342.81L255.29,343.28L255.62,343.79L255.95,344.33L256.29,344.89L256.62,345.48L256.96,346.08L257.29,346.70L257.62,347.33L257.96,347.96L258.29,348.59L258.62,349.21L258.96,349.83L259.29,350.43L259.63,351.01L259.96,351.56L260.29,352.09L260.63,352.58L260.96,353.04L261.29,353.45L261.63,353.82L261.96,354.13L262.30,354.38L262.63,354.57L262.96,354.69L263.30,354.72L263.63,354.65L263.96,354.48L264.30,354.21L264.63,353.82L264.97,353.32L265.30,352.71L265.63,352.00L265.97,351.20L266.30,350.31L266.63,349.34L266.97,348.31L267.30,347.21L267.64,346.06L267.97,344.87L268.30,343.63L268.64,342.37L268.97,341.09L269.30,339.79L269.64,338.49L269.97,337.19L270.31,335.90L270.64,334.63L270.97,333.39L271.31,332.18L271.64,331.01L271.97,329.90L272.31,328.84L272.64,327.85L272.98,326.93L273.31,326.10L273.64,325.36L273.98,324.72L274.31,324.18L274.64,323.76L274.98,323.46L275.31,323.29L275.65,323.25L275.98,323.34L276.31,323.55L276.65,323.89L276.98,324.33L277.31,324.88L277.65,325.51L277.98,326.21L278.32,326.97L278.65,327.77L278.98,328.61L279.32,329.46L279.65,330.31L279.98,331.15L280.32,331.96L280.65,332.73L280.99,333.44L281.32,334.10L281.65,334.68L281.99,335.19L282.32,335.63L282.65,336.01L282.99,336.35L283.32,336.64L283.65,336.91L283.99,337.15L284.32,337.38L284.66,337.59L284.99,337.78L285.32,337.95L285.66,338.11L285.99,338.25L286.32,338.38L286.66,338.49L286.99,338.60L287.33,338.69L287.66,338.77L287.99,338.86L288.33,338.95L288.66,339.05L288.99,339.16L289.33,339.30L289.66,339.47L290.00,339.67L290.33,339.92L290.66,340.22L291.00,340.56L291.33,340.95L291.66,341.38L292.00,341.85L292.33,342.35L292.67,342.88L293.00,343.43L293.33,344.00L293.67,344.59L294.00,345.18L294.33,345.78L294.67,346.38L295.00,346.97L295.34,347.56L295.67,348.13L296.00,348.67L296.34,349.20L296.67,349.69L297.00,350.16L297.34,350.58L297.67,350.96L298.01,351.29L298.34,351.56L298.67,351.78L299.01,351.93L299.34,352.01L299.67,352.00L300.01,351.92L300.34,351.74L300.68,351.47L301.01,351.11L301.34,350.67L301.68,350.14L302.01,349.53L302.34,348.86L302.68,348.12L303.01,347.32L303.35,346.47L303.68,345.58L304.01,344.65L304.35,343.68L304.68,342.69L305.01,341.68L305.35,340.66L305.68,339.63L306.02,338.60L306.35,337.58L306.68,336.56L307.02,335.57L307.35,334.60L307.68,333.66L308.02,332.76L308.35,331.90L308.69,331.10L309.02,330.35L309.35,329.66L309.69,329.04L310.02,328.50L310.35,328.04L310.69,327.66L311.02,327.38L311.36,327.20L311.69,327.11L312.02,327.11L312.36,327.21L312.69,327.40L313.02,327.66L313.36,328.00L313.69,328.40L314.03,328.86L314.36,329.37L314.69,329.91L315.03,330.49L315.36,331.09L315.69,331.71L316.03,332.33L316.36,332.96L316.70,333.57L317.03,334.16L317.36,334.73L317.70,335.27L318.03,335.77L318.36,336.23L318.70,336.64L319.03,337.02L319.37,337.36L319.70,337.68L320.03,337.97L320.37,338.25L320.70,338.51L321.03,338.76L321.37,338.99L321.70,339.21L322.03,339.41L322.37,339.59L322.70,339.75L323.04,339.89L323.37,340.02L323.70,340.14L324.04,340.24L324.37,340.33L324.70,340.43L325.04,340.53L325.37,340.64L325.71,340.78L326.04,340.94L326.37,341.13L326.71,341.37L327.04,341.64L327.37,341.96L327.71,342.32L328.04,342.72L328.38,343.15L328.71,343.62L329.04,344.11L329.38,344.63L329.71,345.16L330.04,345.71L330.38,346.27L330.71,346.83L331.05,347.40L331.38,347.97L331.71,348.53L332.05,349.08L332.38,349.62L332.71,350.14L333.05,350.63L333.38,351.10L333.72,351.54L334.05,351.95L334.38,352.31L334.72,352.64L335.05,352.92L335.38,353.14L335.72,353.31L336.05,353.40L336.39,353.43L336.72,353.37L337.05,353.23L337.39,352.98L337.72,352.64L338.05,352.21L338.39,351.68L338.72,351.06L339.06,350.37L339.39,349.60L339.72,348.76L340.06,347.86L340.39,346.90L340.72,345.90L341.06,344.85L341.39,343.77L341.73,342.67L342.06,341.54L342.39,340.39L342.73,339.24L343.06,338.08L343.39,336.93L343.73,335.79L344.06,334.67L344.40,333.57L344.73,332.50L345.06,331.47L345.40,330.48L345.73,329.55L346.06,328.67L346.40,327.86L346.73,327.11L347.07,326.45L347.40,325.87L347.73,325.37L348.07,324.98L348.40,324.69L348.73,324.50L349.07,324.43L349.40,324.48L349.74,324.64L350.07,324.91L350.40,325.28L350.74,325.75L351.07,326.31L351.40,326.93L351.74,327.62L352.07,328.36L352.41,329.13L352.74,329.92L353.07,330.73L353.41,331.54L353.74,332.33L354.07,333.10L354.41,333.84L354.74,334.52L355.08,335.15L355.41,335.71L355.74,336.20L356.08,336.62L356.41,336.97L356.74,337.26L357.08,337.52L357.41,337.74L357.74,337.93L358.08,338.11L358.41,338.27L358.75,338.42L359.08,338.56L359.41,338.69L359.75,338.80L360.08,338.91L360.41,339.01L360.75,339.09L361.08,339.18L361.42,339.25L361.75,339.33L362.08,339.41L362.42,339.51L362.75,339.61L363.08,339.74L363.42,339.89L363.75,340.08L364.09,340.31L364.42,340.58L364.75,340.90L365.09,341.26L365.42,341.66L365.75,342.10L366.09,342.57L366.42,343.07L366.76,343.59L367.09,344.13L367.42,344.69L367.76,345.26L368.09,345.83L368.42,346.41L368.76,346.99L369.09,347.56L369.43,348.12L369.76,348.67L370.09,349.20L370.43,349.71L370.76,350.19L371.09,350.64L371.43,351.05L371.76,351.42L372.10,351.75L372.43,352.03L372.76,352.26L373.10,352.42L373.43,352.51L373.76,352.52L374.10,352.44L374.43,352.26L374.77,351.98L375.10,351.58L375.43,351.08L375.77,350.48L376.10,349.79L376.43,349.00L376.77,348.14L377.10,347.21L377.44,346.22L377.77,345.18L378.10,344.09L378.44,342.97L378.77,341.82L379.10,340.65L379.44,339.47L379.77,338.30L380.11,337.12L380.44,335.97L380.77,334.84L381.11,333.74L381.44,332.68L381.77,331.68L382.11,330.73L382.44,329.85L382.78,329.05L383.11,328.33L383.44,327.70L383.78,327.18L384.11,326.76L384.44,326.46L384.78,326.27L385.11,326.21L385.45,326.27L385.78,326.45L386.11,326.74L386.45,327.12L386.78,327.60L387.11,328.15L387.45,328.76L387.78,329.43L388.12,330.14L388.45,330.87L388.78,331.62L389.12,332.37L389.45,333.11L389.78,333.83L390.12,334.51L390.45,335.15L390.79,335.74L391.12,336.27L391.45,336.75L391.79,337.17L392.12,337.56L392.45,337.91L392.79,338.23L393.12,338.53L393.45,338.81L393.79,339.06L394.12,339.28L394.46,339.47L394.79,339.63L395.12,339.77L395.46,339.89L395.79,339.99L396.12,340.07L396.46,340.15L396.79,340.21L397.13,340.28L397.46,340.34L397.79,340.40L398.13,340.47L398.46,340.55L398.79,340.64L399.13,340.75L399.46,340.88L399.80,341.05L400.13,341.26L400.46,341.51L400.80,341.81L401.13,342.15L401.46,342.54L401.80,342.96L402.13,343.43L402.47,343.92L402.80,344.44L403.13,344.99L403.47,345.56L403.80,346.14L404.13,346.73L404.47,347.33L404.80,347.93L405.14,348.52L405.47,349.12L405.80,349.70L406.14,350.26L406.47,350.81L406.80,351.34L407.14,351.83L407.47,352.30L407.81,352.72L408.14,353.11L408.47,353.45L408.81,353.75L409.14,353.99L409.47,354.16L409.81,354.27L410.14,354.31L410.48,354.25L410.81,354.11L411.14,353.87L411.48,353.53L411.81,353.10L412.14,352.57L412.48,351.96L412.81,351.26L413.15,350.49L413.48,349.65L413.81,348.74L414.15,347.78L414.48,346.78L414.81,345.73L415.15,344.64L415.48,343.53L415.82,342.39L416.15,341.24L416.48,340.08L416.82,338.92L417.15,337.76L417.48,336.61L417.82,335.48L418.15,334.37L418.49,333.30L418.82,332.26L419.15,331.27L419.49,330.33L419.82,329.44L420.15,328.62L420.49,327.87L420.82,327.19L421.16,326.60L421.49,326.10L421.82,325.70L422.16,325.40L422.49,325.21L422.82,325.13L423.16,325.17L423.49,325.32L423.83,325.58L424.16,325.94L424.49,326.39L424.83,326.93L425.16,327.53L425.49,328.20L425.83,328.91L426.16,329.65L426.50,330.42L426.83,331.20L427.16,331.98L427.50,332.74L427.83,333.48L428.16,334.19L428.50,334.84L428.83,335.44L429.16,335.98L429.50,336.45L429.83,336.86L430.17,337.22L430.50,337.53L430.83,337.81L431.17,338.06L431.50,338.29L431.83,338.50L432.17,338.70L432.50,338.87L432.84,339.03L433.17,339.17L433.50,339.30L433.84,339.41L434.17,339.51L434.50,339.59L434.84,339.67L435.17,339.75L435.51,339.83L435.84,339.92L436.17,340.02L436.51,340.14L436.84,340.30L437.17,340.50L437.51,340.74L437.84,341.04L438.18,341.40L438.51,341.81L438.84,342.28L439.18,342.79L439.51,343.34L439.84,343.94L440.18,344.56L440.51,345.20L440.85,345.87L441.18,346.54L441.51,347.23L441.85,347.91L442.18,348.59L442.51,349.26L442.85,349.91L443.18,350.54L443.52,351.14L443.85,351.71L444.18,352.23L444.52,352.71L444.85,353.14L445.18,353.51L445.52,353.81L445.85,354.05L446.19,354.20L446.52,354.27L446.85,354.24L447.19,354.11L447.52,353.88L447.85,353.54L448.19,353.11L448.52,352.57L448.86,351.95L449.19,351.24L449.52,350.45L449.86,349.59L450.19,348.67L450.52,347.69L450.86,346.66L451.19,345.58L451.53,344.47L451.86,343.34L452.19,342.18L452.53,341.00L452.86,339.82L453.19,338.63L453.53,337.46L453.86,336.29L454.20,335.15L454.53,334.03L454.86,332.95L455.20,331.91L455.53,330.91L455.86,329.98L456.20,329.10L456.53,328.29L456.87,327.56L457.20,326.92L457.53,326.36L457.87,325.90L458.20,325.54L458.53,325.30L458.87,325.16L459.20,325.15L459.54,325.25L459.87,325.46L460.20,325.77L460.54,326.19L460.87,326.69L461.20,327.27L461.54,327.91L461.87,328.60L462.21,329.33L462.54,330.09L462.87,330.87L463.21,331.65L463.54,332.42L463.87,333.17L464.21,333.89L464.54,334.57L464.87,335.20L465.21,335.76L465.54,336.26L465.88,336.69L466.21,337.07L466.54,337.40L466.88,337.70L467.21,337.96L467.54,338.20L467.88,338.41L468.21,338.62L468.55,338.80L468.88,338.97L469.21,339.12L469.55,339.25L469.88,339.36L470.21,339.47L470.55,339.56L470.88,339.64L471.22,339.72L471.55,339.80L471.88,339.88L472.22,339.98L472.55,340.09L472.88,340.23L473.22,340.42L473.55,340.65L473.89,340.94L474.22,341.28L474.55,341.69L474.89,342.16L475.22,342.67L475.55,343.23L475.89,343.84L476.22,344.47L476.56,345.14L476.89,345.82L477.22,346.52L477.56,347.23L477.89,347.94L478.22,348.65L478.56,349.34L478.89,350.02L479.23,350.67L479.56,351.29L479.89,351.88L480.23,352.42L480.56,352.91L480.89,353.35L481.23,353.72L481.56,354.02L481.90,354.25L482.23,354.39L482.56,354.44L482.90,354.39L483.23,354.24L483.56,353.99L483.90,353.64L484.23,353.19L484.57,352.65L484.90,352.01L485.23,351.30L485.57,350.51L485.90,349.66L486.23,348.74L486.57,347.77L486.90,346.75L487.24,345.68L487.57,344.59L487.90,343.46L488.24,342.32L488.57,341.16L488.90,339.99L489.24,338.82L489.57,337.66L489.91,336.50L490.24,335.37L490.57,334.26L490.91,333.19L491.24,332.15L491.57,331.16L491.91,330.22L492.24,329.34L492.58,328.52L492.91,327.78L493.24,327.11L493.58,326.53L493.91,326.04L494.24,325.65L494.58,325.37L494.91,325.20L495.25,325.13L495.58,325.19L495.91,325.35L496.25,325.63L496.58,326.00L496.91,326.47L497.25,327.02L497.58,327.63L497.92,328.30L498.25,329.02L498.58,329.77L498.92,330.54L499.25,331.32L499.58,332.10L499.92,332.86L500.25,333.59L500.58,334.29L500.92,334.94L501.25,335.53L501.59,336.06L501.92,336.52L502.25,336.92L502.59,337.27L502.92,337.58L503.25,337.85L503.59,338.10L503.92,338.32L504.26,338.53L504.59,338.72L504.92,338.90L505.26,339.05L505.59,339.19L505.92,339.32L506.26,339.43L506.59,339.52L506.93,339.61L507.26,339.69L507.59,339.76L507.93,339.84L508.26,339.93L508.59,340.04L508.93,340.16L509.26,340.32L509.60,340.51L509.93,340.75L510.26,341.04L510.60,341.39L510.93,341.78L511.26,342.23L511.60,342.71L511.93,343.24L512.27,343.80L512.60,344.38L512.93,344.99L513.27,345.62L513.60,346.27L513.93,346.92L514.27,347.57L514.60,348.22L514.94,348.87L515.27,349.50L515.60,350.12L515.94,350.71L516.27,351.28L516.60,351.81L516.94,352.31L517.27,352.76L517.61,353.17L517.94,353.52L518.27,353.82L518.61,354.05L518.94,354.20L519.27,354.28L519.61,354.28L519.94,354.18L520.28,353.99L520.61,353.71L520.94,353.33L521.28,352.85L521.61,352.30L521.94,351.66L522.28,350.95L522.61,350.17L522.95,349.32L523.28,348.43L523.61,347.48L523.95,346.49L524.28,345.47L524.61,344.41L524.95,343.33L525.28,342.24L525.62,341.13L525.95,340.02L526.28,338.91L526.62,337.81L526.95,336.72L527.28,335.65L527.62,334.62L527.95,333.61L528.29,332.64L528.62,331.72L528.95,330.86L529.29,330.05L529.62,329.31L529.95,328.64L530.29,328.04L530.62,327.53L530.96,327.11L531.29,326.78L531.62,326.55L531.96,326.42L532.29,326.37L532.62,326.42L532.96,326.55L533.29,326.74L533.63,326.99L533.96,327.27L534.29,327.57L534.63,327.84L534.96,328.07" stroke="#f00"/>
<path d="M68.06,339.49L68.39,339.49L68.73,339.49L69.06,339.50L69.39,339.50L69.73,339.50L70.06,339.50L70.40,339.50L70.73,339.51L71.06,339.51L71.40,339.51L71.73,339.52L72.06,339.52L72.40,339.52L72.73,339.53L73.07,339.53L73.40,339.54L73.73,339.55L74.07,339.55L74.40,339.56L74.73,339.57L75.07,339.58L75.40,339.58L75.74,339.59L76.07,339.60L76.40,339.61L76.74,339.62L77.07,339.63L77.40,339.64L77.74,339.65L78.07,339.66L78.41,339.68L78.74,339.69L79.07,339.70L79.41,339.72L79.74,339.74L80.07,339.77L80.41,339.81L80.74,339.87L81.08,339.95L81.41,340.05L81.74,340.18L82.08,340.34L82.41,340.53L82.74,340.74L83.08,340.97L83.41,341.21L83.75,341.48L84.08,341.75L84.41,342.04L84.75,342.34L85.08,342.64L85.41,342.94L85.75,343.24L86.08,343.54L86.42,343.83L86.75,344.11L87.08,344.39L87.42,344.66L87.75,344.93L88.08,345.19L88.42,345.46L88.75,345.73L89.09,346.01L89.42,346.30L89.75,346.58L90.09,346.86L90.42,347.14L90.75,347.40L91.09,347.65L91.42,347.88L91.76,348.08L92.09,348.24L92.42,348.38L92.76,348.48L93.09,348.54L93.42,348.58L93.76,348.58L94.09,348.57L94.43,348.53L94.76,348.48L95.09,348.41L95.43,348.33L95.76,348.24L96.09,348.14L96.43,348.03L96.76,347.91L97.10,347.78L97.43,347.64L97.76,347.49L98.10,347.34L98.43,347.18L98.76,347.02L99.10,346.85L99.43,346.68L99.77,346.50L100.10,346.32L100.43,346.13L100.77,345.95L101.10,345.76L101.43,345.58L101.77,345.39L102.10,345.19L102.44,345.00L102.77,344.80L103.10,344.59L103.44,344.37L103.77,344.15L104.10,343.91L104.44,343.67L104.77,343.41L105.10,343.14L105.44,342.87L105.77,342.58L106.11,342.28L106.44,341.98L106.77,341.66L107.11,341.34L107.44,341.00L107.77,340.65L108.11,340.30L108.44,339.93L108.78,339.55L109.11,339.16L109.44,338.74L109.78,338.30L110.11,337.84L110.44,337.33L110.78,336.80L111.11,336.23L111.45,335.64L111.78,335.02L112.11,334.39L112.45,333.74L112.78,333.09L113.11,332.44L113.45,331.80L113.78,331.17L114.12,330.56L114.45,329.97L114.78,329.40L115.12,328.85L115.45,328.31L115.78,327.77L116.12,327.24L116.45,326.70L116.79,326.16L117.12,325.62L117.45,325.07L117.79,324.53L118.12,324.00L118.45,323.47L118.79,322.95L119.12,322.45L119.46,321.96L119.79,321.50L120.12,321.06L120.46,320.66L120.79,320.28L121.12,319.93L121.46,319.63L121.79,319.37L122.13,319.15L122.46,318.97L122.79,318.85L123.13,318.77L123.46,318.74L123.79,318.75L124.13,318.81L124.46,318.90L124.80,319.02L125.13,319.18L125.46,319.37L125.80,319.58L126.13,319.82L126.46,320.08L126.80,320.37L127.13,320.67L127.47,320.99L127.80,321.34L128.13,321.71L128.47,322.12L128.80,322.58L129.13,323.10L129.47,323.68L129.80,324.31L130.14,324.98L130.47,325.68L130.80,326.39L131.14,327.10L131.47,327.80L131.80,328.51L132.14,329.21L132.47,329.91L132.81,330.60L133.14,331.27L133.47,331.91L133.81,332.53L134.14,333.11L134.47,333.66L134.81,334.19L135.14,334.68L135.48,335.16L135.81,335.62L136.14,336.07L136.48,336.51L136.81,336.93L137.14,337.32L137.48,337.69L137.81,338.03L138.15,338.34L138.48,338.60L138.81,338.82L139.15,339.00L139.48,339.14L139.81,339.24L140.15,339.32L140.48,339.37L140.81,339.41L141.15,339.44L141.48,339.46L141.82,339.48L142.15,339.50L142.48,339.51L142.82,339.53L143.15,339.54L143.48,339.55L143.82,339.57L144.15,339.58L144.49,339.60L144.82,339.62L145.15,339.64L145.49,339.68L145.82,339.73L146.15,339.79L146.49,339.89L146.82,340.03L147.16,340.22L147.49,340.46L147.82,340.75L148.16,341.08L148.49,341.44L148.82,341.82L149.16,342.21L149.49,342.58L149.83,342.94L150.16,343.26L150.49,343.53L150.83,343.76L151.16,343.93L151.49,344.06L151.83,344.16L152.16,344.22L152.50,344.27L152.83,344.31L153.16,344.34L153.50,344.37L153.83,344.39L154.16,344.42L154.50,344.44L154.83,344.45L155.17,344.47L155.50,344.48L155.83,344.49L156.17,344.48L156.50,344.46L156.83,344.41L157.17,344.31L157.50,344.17L157.84,343.97L158.17,343.70L158.50,343.37L158.84,342.98L159.17,342.54L159.50,342.07L159.84,341.58L160.17,341.07L160.51,340.57L160.84,340.08L161.17,339.61L161.51,339.17L161.84,338.77L162.17,338.42L162.51,338.10L162.84,337.82L163.18,337.57L163.51,337.34L163.84,337.13L164.18,336.93L164.51,336.75L164.84,336.58L165.18,336.43L165.51,336.30L165.85,336.20L166.18,336.13L166.51,336.10L166.85,336.09L167.18,336.13L167.51,336.21L167.85,336.33L168.18,336.47L168.52,336.65L168.85,336.85L169.18,337.07L169.52,337.30L169.85,337.53L170.18,337.76L170.52,337.98L170.85,338.19L171.19,338.38L171.52,338.55L171.85,338.70L172.19,338.84L172.52,338.96L172.85,339.07L173.19,339.18L173.52,339.27L173.86,339.37L174.19,339.46L174.52,339.55L174.86,339.63L175.19,339.72L175.52,339.81L175.86,339.90L176.19,339.99L176.52,340.08L176.86,340.18L177.19,340.28L177.53,340.38L177.86,340.49L178.19,340.60L178.53,340.72L178.86,340.84L179.19,340.96L179.53,341.09L179.86,341.21L180.20,341.34L180.53,341.47L180.86,341.60L181.20,341.73L181.53,341.86L181.86,342.00L182.20,342.13L182.53,342.26L182.87,342.38L183.20,342.51L183.53,342.64L183.87,342.77L184.20,342.90L184.53,343.03L184.87,343.16L185.20,343.30L185.54,343.44L185.87,343.59L186.20,343.74L186.54,343.88L186.87,344.03L187.20,344.18L187.54,344.32L187.87,344.45L188.21,344.58L188.54,344.71L188.87,344.82L189.21,344.92L189.54,345.01L189.87,345.09L190.21,345.15L190.54,345.17L190.88,345.16L191.21,345.10L191.54,344.96L191.88,344.73L192.21,344.41L192.54,343.99L192.88,343.48L193.21,342.88L193.55,342.22L193.88,341.50L194.21,340.76L194.55,339.99L194.88,339.23L195.21,338.48L195.55,337.76L195.88,337.06L196.22,336.37L196.55,335.71L196.88,335.04L197.22,334.38L197.55,333.72L197.88,333.08L198.22,332.45L198.55,331.87L198.89,331.34L199.22,330.89L199.55,330.52L199.89,330.24L200.22,330.07L200.55,329.99L200.89,330.00L201.22,330.08L201.56,330.23L201.89,330.44L202.22,330.69L202.56,330.97L202.89,331.28L203.22,331.61L203.56,331.95L203.89,332.30L204.23,332.64L204.56,332.99L204.89,333.32L205.23,333.66L205.56,333.99L205.89,334.32L206.23,334.65L206.56,334.99L206.90,335.33L207.23,335.68L207.56,336.02L207.90,336.35L208.23,336.67L208.56,336.97L208.90,337.25L209.23,337.50L209.57,337.73L209.90,337.92L210.23,338.08L210.57,338.22L210.90,338.34L211.23,338.43L211.57,338.52L211.90,338.59L212.23,338.66L212.57,338.72L212.90,338.78L213.24,338.85L213.57,338.92L213.90,339.00L214.24,339.09L214.57,339.20L214.90,339.35L215.24,339.53L215.57,339.76L215.91,340.06L216.24,340.41L216.57,340.83L216.91,341.31L217.24,341.85L217.57,342.44L217.91,343.08L218.24,343.76L218.58,344.47L218.91,345.20L219.24,345.96L219.58,346.73L219.91,347.50L220.24,348.28L220.58,349.05L220.91,349.80L221.25,350.54L221.58,351.26L221.91,351.94L222.25,352.58L222.58,353.18L222.91,353.73L223.25,354.22L223.58,354.64L223.92,355.00L224.25,355.27L224.58,355.46L224.92,355.56L225.25,355.57L225.58,355.47L225.92,355.26L226.25,354.96L226.59,354.55L226.92,354.04L227.25,353.44L227.59,352.76L227.92,351.99L228.25,351.15L228.59,350.24L228.92,349.27L229.26,348.24L229.59,347.17L229.92,346.05L230.26,344.89L230.59,343.70L230.92,342.49L231.26,341.26L231.59,340.01L231.93,338.76L232.26,337.51L232.59,336.26L232.93,335.03L233.26,333.81L233.59,332.62L233.93,331.46L234.26,330.34L234.60,329.26L234.93,328.23L235.26,327.25L235.60,326.34L235.93,325.49L236.26,324.71L236.60,324.02L236.93,323.41L237.27,322.90L237.60,322.49L237.93,322.19L238.27,322.01L238.60,321.96L238.93,322.06L239.27,322.30L239.60,322.70L239.94,323.25L240.27,323.92L240.60,324.72L240.94,325.61L241.27,326.58L241.60,327.61L241.94,328.67L242.27,329.75L242.61,330.82L242.94,331.85L243.27,332.84L243.61,333.76L243.94,334.59L244.27,335.32L244.61,335.95L244.94,336.48L245.28,336.93L245.61,337.31L245.94,337.63L246.28,337.93L246.61,338.19L246.94,338.44L247.28,338.67L247.61,338.88L247.94,339.08L248.28,339.27L248.61,339.44L248.95,339.59L249.28,339.74L249.61,339.87L249.95,339.98L250.28,340.09L250.61,340.18L250.95,340.27L251.28,340.36L251.62,340.44L251.95,340.54L252.28,340.65L252.62,340.78L252.95,340.94L253.28,341.13L253.62,341.37L253.95,341.66L254.29,342.00L254.62,342.39L254.95,342.81L255.29,343.28L255.62,343.79L255.95,344.33L256.29,344.89L256.62,345.48L256.96,346.08L257.29,346.70L257.62,347.33L257.96,347.96L258.29,348.59L258.62,349.21L258.96,349.83L259.29,350.43L259.63,351.01L259.96,351.56L260.29,352.09L260.63,352.58L260.96,353.04L261.29,353.45L261.63,353.82L261.96,354.13L262.30,354.38L262.63,354.57L262.96,354.69L263.30,354.72L263.63,354.65L263.96,354.48L264.30,354.21L264.63,353.82L264.97,353.32L265.30,352.71L265.63,352.00L265.97,351.20L266.30,350.31L266.63,349.34L266.97,348.31L267.30,347.21L267.64,346.06L267.97,344.87L268.30,343.63L268.64,342.37L268.97,341.09L269.30,339.79L269.64,338.49L269.97,337.19L270.31,335.90L270.64,334.63L270.97,333.39L271.31,332.18L271.64,331.01L271.97,329.90L272.31,328.84L272.64,327.85L272.98,326.93L273.31,326.10L273.64,325.36L273.98,324.72L274.31,324.18L274.64,323.76L274.98,323.46L275.31,323.29L275.65,323.25L275.98,323.34L276.31,323.55L276.65,323.89L276.98,324.33L277.31,324.88L277.65,325.51L277.98,326.21L278.32,326.97L278.65,327.77L278.98,328.61L279.32,329.46L279.65,330.31L279.98,331.15L280.32,331.96L280.65,332.73L280.99,333.44L281.32,334.10L281.65,334.68L281.99,335.19L282.32,335.63L282.65,336.01L282.99,336.35L283.32,336.64L283.65,336.91L283.99,337.15L284.32,337.38L284.66,337.59L284.99,337.78L285.32,337.95L285.66,338.11L285.99,338.25L286.32,338.38L286.66,338.49L286.99,338.60L287.33,338.69L287.66,338.77L287.99,338.86L288.33,338.95L288.66,339.05L288.99,339.16L289.33,339.30L289.66,339.47L290.00,339.67L290.33,339.92L290.66,340.22L291.00,340.56L291.33,340.95L291.66,341.38L292.00,341.85L292.33,342.35L292.67,342.88L293.00,343.43L293.33,344.00L293.67,344.59L294.00,345.18L294.33,345.78L294.67,346.38L295.00,346.97L295.34,347.56L295.67,348.13L296.00,348.67L296.34,349.20L296.67,349.69L297.00,350.16L297.34,350.58L297.67,350.96L298.01,351.29L298.34,351.56L298.67,351.78L299.01,351.93L299.34,352.01L299.67,352.00L300.01,351.92L300.34,351.74L300.68,351.47L301.01,351.11L301.34,350.67L301.68,350.14L302.01,349.53L302.34,348.86L302.68,348.12L303.01,347.32L303.35,346.47L303.68,345.58L304.01,344.65L304.35,343.68L304.68,342.69L305.01,341.68L305.35,340.66L305.68,339.63L306.02,338.60L306.35,337.58L306.68,336.56L307.02,335.57L307.35,334.60L307.68,333.66L308.02,332.76L308.35,331.90L308.69,331.10L309.02,330.35L309.35,329.66L309.69,329.04L310.02,328.50L310.35,328.04L310.69,327.66L311.02,327.38L311.36,327.20L311.69,327.11L312.02,327.11L312.36,327.21L312.69,327.40L313.02,327.66L313.36,328.00L313.69,328.40L314.03,328.86L314.36,329.37L314.69,329.91L315.03,330.49L315.36,331.09L315.69,331.71L316.03,332.33L316.36,332.96L316.70,333.57L317.03,334.16L317.36,334.73L317.70,335.27L318.03,335.77L318.36,336.23L318.70,336.64L319.03,337.02L319.37,337.36L319.70,337.68L320.03,337.97L320.37,338.25L320.70,338.51L321.03,338.76L321.37,338.99L321.70,339.21L322.03,339.41L322.37,339.59L322.70,339.75L323.04,339.89L323.37,340.02L323.70,340.14L324.04,340.24L324.37,340.33L324.70,340.43L325.04,340.53L325.37,340.64L325.71,340.78L326.04,340.94L326.37,341.13L326.71,341.37L327.04,341.64L327.37,341.96L327.71,342.32L328.04,342.72L328.38,343.15L328.71,343.62L329.04,344.11L329.38,344.63L329.71,345.16L330.04,345.71L330.38,346.27L330.71,346.83L331.05,347.40L331.38,347.97L331.71,348.53L332.05,349.08L332.38,349.62L332.71,350.14L333.05,350.63L333.38,351.10L333.72,351.54L334.05,351.95L334.38,352.31L334.72,352.64L335.05,352.92L335.38,353.14L335.72,353.31L336.05,353.40L336.39,353.43L336.72,353.37L337.05,353.23L337.39,352.98L337.72,352.64L338.05,352.21L338.39,351.68L338.72,351.06L339.06,350.37L339.39,349.60L339.72,348.76L340.06,347.86L340.39,346.90L340.72,345.90L341.06,344.85L341.39,343.77L341.73,342.67L342.06,341.54L342.39,340.39L342.73,339.24L343.06,338.08L343.39,336.93L343.73,335.79L344.06,334.67L344.40,333.57L344.73,332.50L345.06,331.47L345.40,330.48L345.73,329.55L346.06,328.67L346.40,327.86L346.73,327.11L347.07,326.45L347.40,325.87L347.73,325.37L348.07,324.98L348.40,324.69L348.73,324.50L349.07,324.43L349.40,324.48L349.74,324.64L350.07,324.91L350.40,325.28L350.74,325.75L351.07,326.31L351.40,326.93L351.74,327.62L352.07,328.36L352.41,329.13L352.74,329.92L353.07,330.73L353.41,331.54L353.74,332.33L354.07,333.10L354.41,333.84L354.74,334.52L355.08,335.15L355.41,335.71L355.74,336.20L356.08,336.62L356.41,336.97L356.74,337.26L357.08,337.52L357.41,337.74L357.74,337.93L358.08,338.11L358.41,338.27L358.75,338.42L359.08,338.56L359.41,338.69L359.75,338.80L360.08,338.91L360.41,339.01L360.75,339.09L361.08,339.18L361.42,339.25L361.75,339.33L362.08,339.41L362.42,339.51L362.75,339.61L363.08,339.74L363.42,339.89L363.75,340.08L364.09,340.31L364.42,340.58L364.75,340.90L365.09,341.26L365.42,341.66L365.75,342.10L366.09,342.57L366.42,343.07L366.76,343.59L367.09,344.13L367.42,344.69L367.76,345.26L368.09,345.83L368.42,346.41L368.76,346.99L369.09,347.56L369.43,348.12L369.76,348.67L370.09,349.20L370.43,349.71L370.76,350.19L371.09,350.64L371.43,351.05L371.76,351.42L372.10,351.75L372.43,352.03L372.76,352.26L373.10,352.42L373.43,352.51L373.76,352.52L374.10,352.44L374.43,352.26L374.77,351.98L375.10,351.58L375.43,351.08L375.77,350.48L376.10,349.79L376.43,349.00L376.77,348.14L377.10,347.21L377.44,346.22L377.77,345.18L378.10,344.09L378.44,342.97L378.77,341.82L379.10,340.65L379.44,339.47L379.77,338.30L380.11,337.12L380.44,335.97L380.77,334.84L381.11,333.74L381.44,332.68L381.77,331.68L382.11,330.73L382.44,329.85L382.78,329.05L383.11,328.33L383.44,327.70L383.78,327.18L384.11,326.76L384.44,326.46L384.78,326.27L385.11,326.21L385.45,326.27L385.78,326.45L386.11,326.74L386.45,327.12L386.78,327.60L387.11,328.15L387.45,328.76L387.78,329.43L388.12,330.14L388.45,330.87L388.78,331.62L389.12,332.37L389.45,333.11L389.78,333.83L390.12,334.51L390.45,335.15L390.79,335.74L391.12,336.27L391.45,336.75L391.79,337.17L392.12,337.56L392.45,337.91L392.79,338.23L393.12,338.53L393.45,338.81L393.79,339.06L394.12,339.28L394.46,339.47L394.79,339.63L395.12,339.77L395.46,339.89L395.79,339.99L396.12,340.07L396.46,340.15L396.79,340.21L397.13,340.28L397.46,340.34L397.79,340.40L398.13,340.47L398.46,340.55L398.79,340.64L399.13,340.75L399.46,340.88L399.80,341.05L400.13,341.26L400.46,341.51L400.80,341.81L401.13,342.15L401.46,342.54L401.80,342.96L402.13,343.43L402.47,343.92L402.80,344.44L403.13,344.99L403.47,345.56L403.80,346.14L404.13,346.73L404.47,347.33L404.80,347.93L405.14,348.52L405.47,349.12L405.80,349.70L406.14,350.26L406.47,350.81L406.80,351.34L407.14,351.83L407.47,352.30L407.81,352.72L408.14,353.11L408.47,353.45L408.81,353.75L409.14,353.99L409.47,354.16L409.81,354.27L410.14,354.31L410.48,354.25L410.81,354.11L411.14,353.87L411.48,353.53L411.81,353.10L412.14,352.57L412.48,351.96L412.81,351.26L413.15,350.49L413.48,349.65L413.81,348.74L414.15,347.78L414.48,346.78L414.81,345.73L415.15,344.64L415.48,343.53L415.82,342.39L416.15,341.24L416.48,340.08L416.82,338.92L417.15,337.76L417.48,336.61L417.82,335.48L418.15,334.37L418.49,333.30L418.82,332.26L419.15,331.27L419.49,330.33L419.82,329.44L420.15,328.62L420.49,327.87L420.82,327.19L421.16,326.60L421.49,326.10L421.82,325.70L422.16,325.40L422.49,325.21L422.82,325.13L423.16,325.17L423.49,325.32L423.83,325.58L424.16,325.94L424.49,326.39L424.83,326.93L425.16,327.53L425.49,328.20L425.83,328.91L426.16,329.65L426.50,330.42L426.83,331.20L427.16,331.98L427.50,332.74L427.83,333.48L428.16,334.19L428.50,334.84L428.83,335.44L429.16,335.98L429.50,336.45L429.83,336.86L430.17,337.22L430.50,337.53L430.83,337.81L431.17,338.06L431.50,338.29L431.83,338.50L432.17,338.70L432.50,338.87L432.84,339.03L433.17,339.17L433.50,339.30L433.84,339.41L434.17,339.51L434.50,339.59L434.84,339.67L435.17,339.75L435.51,339.83L435.84,339.92L436.17,340.02L436.51,340.14L436.84,340.30L437.17,340.50L437.51,340.74L437.84,341.04L438.18,341.40L438.51,341.81L438.84,342.28L439.18,342.79L439.51,343.34L439.84,343.94L440.18,344.56L440.51,345.20L440.85,345.87L441.18,346.54L441.51,347.23L441.85,347.91L442.18,348.59L442.51,349.26L442.85,349.91L443.18,350.54L443.52,351.14L443.85,351.71L444.18,352.23L444.52,352.71L444.85,353.14L445.18,353.51L445.52,353.81L445.85,354.05L446.19,354.20L446.52,354.27L446.85,354.24L447.19,354.11L447.52,353.88L447.85,353.54L448.19,353.11L448.52,352.57L448.86,351.95L449.19,351.24L449.52,350.45L449.86,349.59L450.19,348.67L450.52,347.69L450.86,346.66L451.19,345.58L451.53,344.47L451.86,343.34L452.19,342.18L452.53,341.00L452.86,339.82L453.19,338.63L453.53,337.46L453.86,336.29L454.20,335.15L454.53,334.03L454.86,332.95L455.20,331.91L455.53,330.91L455.86,329.98L456.20,329.10L456.53,328.29L456.87,327.56L457.20,326.92L457.53,326.36L457.87,325.90L458.20,325.54L458.53,325.30L458.87,325.16L459.20,325.15L459.54,325.25L459.87,325.46L460.20,325.77L460.54,326.19L460.87,326.69L461.20,327.27L461.54,327.91L461.87,328.60L462.21,329.33L462.54,330.09L462.87,330.87L463.21,331.65L463.54,332.42L463.87,333.17L464.21,333.89L464.54,334.57L464.87,335.20L465.21,335.76L465.54,336.26L465.88,336.69L466.21,337.07L466.54,337.40L466.88,337.70L467.21,337.96L467.54,338.20L467.88,338.41L468.21,338.62L468.55,338.80L468.88,338.97L469.21,339.12L469.55,339.25L469.88,339.36L470.21,339.47L470.55,339.56L470.88,339.64L471.22,339.72L471.55,339.80L471.88,339.88L472.22,339.98L472.55,340.09L472.88,340.23L473.22,340.42L473.55,340.65L473.89,340.94L474.22,341.28L474.55,341.69L474.89,342.16L475.22,342.67L475.55,343.23L475.89,343.84L476.22,344.47L476.56,345.14L476.89,345.82L477.22,346.52L477.56,347.23L477.89,347.94L478.22,348.65L478.56,349.34L478.89,350.02L479.23,350.67L479.56,351.29L479.89,351.88L480.23,352.42L480.56,352.91L480.89,353.35L481.23,353.72L481.56,354.02L481.90,354.25L482.23,354.39L482.56,354.44L482.90,354.39L483.23,354.24L483.56,353.99L483.90,353.64L484.23,353.19L484.57,352.65L484.90,352.01L485.23,351.30L485.57,350.51L485.90,349.66L486.23,348.74L486.57,347.77L486.90,346.75L487.24,345.68L487.57,344.59L487.90,343.46L488.24,342.32L488.57,341.16L488.90,339.99L489.24,338.82L489.57,337.66L489.91,336.50L490.24,335.37L490.57,334.26L490.91,333.19L491.24,332.15L491.57,331.16L491.91,330.22L492.24,329.34L492.58,328.52L492.91,327.78L493.24,327.11L493.58,326.53L493.91,326.04L494.24,325.65L494.58,325.37L494.91,325.20L495.25,325.13L495.58,325.19L495.91,325.35L496.25,325.63L496.58,326.00L496.91,326.47L497.25,327.02L497.58,327.63L497.92,328.30L498.25,329.02L498.58,329.77L498.92,330.54L499.25,331.32L499.58,332.10L499.92,332.86L500.25,333.59L500.58,334.29L500.92,334.94L501.25,335.53L501.59,336.06L501.92,336.52L502.25,336.92L502.59,337.27L502.92,337.58L503.25,337.85L503.59,338.10L503.92,338.32L504.26,338.53L504.59,338.72L504.92,338.90L505.26,339.05L505.59,339.19L505.92,339.32L506.26,339.43L506.59,339.52L506.93,339.61L507.26,339.69L507.59,339.76L507.93,339.84L508.26,339.93L508.59,340.04L508.93,340.16L509.26,340.32L509.60,340.51L509.93,340.75L510.26,341.04L510.60,341.39L510.93,341.78L511.26,342.23L511.60,342.71L511.93,343.24L512.27,343.80L512.60,344.38L512.93,344.99L513.27,345.62L513.60,346.27L513.93,346.92L514.27,347.57L514.60,348.22L514.94,348.87L515.27,349.50L515.60,350.12L515.94,350.71L516.27,351.28L516.60,351.81L516.94,352.31L517.27,352.76L517.61,353.17L517.94,353.52L518.27,353.82L518.61,354.05L518.94,354.20L519.27,354.28L519.61,354.28L519.94,354.18L520.28,353.99L520.61,353.71L520.94,353.33L521.28,352.85L521.61,352.30L521.94,351.66L522.28,350.95L522.61,350.17L522.95,349.32L523.28,348.43L523.61,347.48L523.95,346.49L524.28,345.47L524.61,344.41L524.95,343.33L525.28,342.24L525.62,341.13L525.95,340.02L526.28,338.91L526.62,337.81L526.95,336.72L527.28,335.65L527.62,334.62L527.95,333.61L528.29,332.64L528.62,331.72L528.95,330.86L529.29,330.05L529.62,329.31L529.95,328.64L530.29,328.04L530.62,327.53L530.96,327.11L531.29,326.78L531.62,326.55L531.96,326.42L532.29,326.37L532.62,326.42L532.96,326.55L533.29,326.74L533.63,326.99L533.96,327.27L534.29,327.57L534.63,327.84L534.96,328.07" stroke="#00f" stroke-dasharray="1.6 5 9.2 5"/>
</g>
<rect x="68.06" y="300.09" width="466.90" height="88.15" fill="none" stroke="#000" stroke-width="1.25"/>
<path d="M184.78,388.24V383.57M184.78,300.09V304.76M301.51,388.24V383.57M301.51,300.09V304.76M418.24,388.24V383.57M418.24,300.09V304.76M68.06,344.16H72.73M534.96,344.16H530.29" stroke="#000" stroke-width="1" fill="none"/>
<text transform="translate(68.06,406.94) scale(1,1.1)" text-anchor="middle">0</text>
<text transform="translate(184.78,406.94) scale(1,1.1)" text-anchor="middle">5</text>
<text transform="translate(301.51,406.94) scale(1,1.1)" text-anchor="middle">10</text>
<text transform="translate(418.24,406.94) scale(1,1.1)" text-anchor="middle">15</text>
<text transform="translate(534.96,406.94) scale(1,1.1)" text-anchor="middle">20</text>
<text transform="translate(64.06,394.44) scale(1,1.1)" text-anchor="end"><tspan dy="2.1">−</tspan><tspan dy="-2.1">500</tspan></text>
<text transform="translate(64.06,350.36) scale(1,1.1)" text-anchor="end">0</text>
<text transform="translate(64.06,306.29) scale(1,1.1)" text-anchor="end">500</text>
<text transform="translate(301.51,424.49) scale(1,1.1)" text-anchor="middle">Time (s)</text>
<text transform="translate(20.20,344.76) scale(1,1.04) rotate(-90)" text-anchor="middle" font-size="14.9" letter-spacing="0.2">Yaw (Nm)</text>
<rect x="402.2" y="307.82" width="125.75" height="41.71" fill="#fff" stroke="#000" stroke-width="1.1"/>
<path d="M410.6,318.99H454" stroke="#f00" stroke-width="1.7"/>
<path d="M410.4,337.79H454" stroke="#00f" stroke-width="1.7" stroke-dasharray="1.6 5 9.2 5"/>
<text transform="translate(458.00,323.99) scale(1,1.1)">Follower 1</text>
<text transform="translate(458.00,342.89) scale(1,1.1)">Follower 2</text>
</svg>
</body></html>
